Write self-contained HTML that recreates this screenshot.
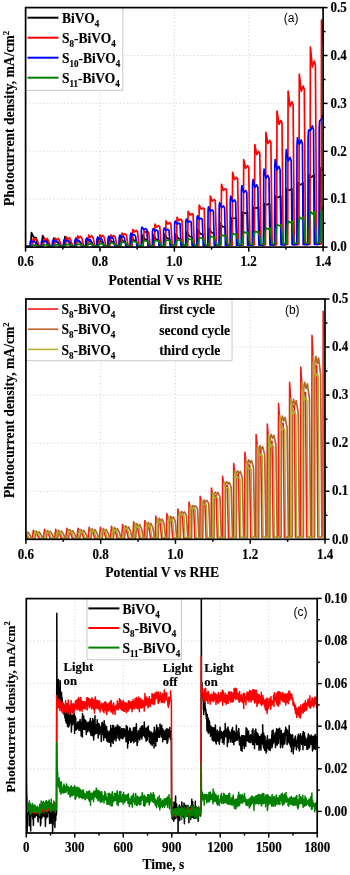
<!DOCTYPE html>
<html><head><meta charset="utf-8"><style>
html,body{margin:0;padding:0;background:#fff;width:350px;height:875px;overflow:hidden;position:relative}
</style></head><body>
<svg width="350" height="875" viewBox="0 0 350 875" style="position:absolute;left:0;top:0;will-change:transform">
<rect width="350" height="875" fill="#fff"/>
<line x1="99.98" y1="7.6" x2="99.98" y2="247.1" stroke="#c4c4c4" stroke-width="0.7" stroke-dasharray="1.2 2.3"/>
<line x1="174.35" y1="7.6" x2="174.35" y2="247.1" stroke="#c4c4c4" stroke-width="0.7" stroke-dasharray="1.2 2.3"/>
<line x1="248.72" y1="7.6" x2="248.72" y2="247.1" stroke="#c4c4c4" stroke-width="0.7" stroke-dasharray="1.2 2.3"/>
<line x1="25.6" y1="199.2" x2="323.1" y2="199.2" stroke="#c4c4c4" stroke-width="0.7" stroke-dasharray="1.2 2.3"/>
<line x1="25.6" y1="151.3" x2="323.1" y2="151.3" stroke="#c4c4c4" stroke-width="0.7" stroke-dasharray="1.2 2.3"/>
<line x1="25.6" y1="103.4" x2="323.1" y2="103.4" stroke="#c4c4c4" stroke-width="0.7" stroke-dasharray="1.2 2.3"/>
<line x1="25.6" y1="55.5" x2="323.1" y2="55.5" stroke="#c4c4c4" stroke-width="0.7" stroke-dasharray="1.2 2.3"/>
<line x1="100.68" y1="299" x2="100.68" y2="539.3" stroke="#c4c4c4" stroke-width="0.7" stroke-dasharray="1.2 2.3"/>
<line x1="175.45" y1="299" x2="175.45" y2="539.3" stroke="#c4c4c4" stroke-width="0.7" stroke-dasharray="1.2 2.3"/>
<line x1="250.22" y1="299" x2="250.22" y2="539.3" stroke="#c4c4c4" stroke-width="0.7" stroke-dasharray="1.2 2.3"/>
<line x1="25.9" y1="491.24" x2="325" y2="491.24" stroke="#c4c4c4" stroke-width="0.7" stroke-dasharray="1.2 2.3"/>
<line x1="25.9" y1="443.18" x2="325" y2="443.18" stroke="#c4c4c4" stroke-width="0.7" stroke-dasharray="1.2 2.3"/>
<line x1="25.9" y1="395.12" x2="325" y2="395.12" stroke="#c4c4c4" stroke-width="0.7" stroke-dasharray="1.2 2.3"/>
<line x1="25.9" y1="347.06" x2="325" y2="347.06" stroke="#c4c4c4" stroke-width="0.7" stroke-dasharray="1.2 2.3"/>
<line x1="74.78" y1="598.6" x2="74.78" y2="833" stroke="#c4c4c4" stroke-width="0.7" stroke-dasharray="1.2 2.3"/>
<line x1="123.27" y1="598.6" x2="123.27" y2="833" stroke="#c4c4c4" stroke-width="0.7" stroke-dasharray="1.2 2.3"/>
<line x1="171.75" y1="598.6" x2="171.75" y2="833" stroke="#c4c4c4" stroke-width="0.7" stroke-dasharray="1.2 2.3"/>
<line x1="220.23" y1="598.6" x2="220.23" y2="833" stroke="#c4c4c4" stroke-width="0.7" stroke-dasharray="1.2 2.3"/>
<line x1="268.72" y1="598.6" x2="268.72" y2="833" stroke="#c4c4c4" stroke-width="0.7" stroke-dasharray="1.2 2.3"/>
<line x1="26.3" y1="811.4" x2="317.2" y2="811.4" stroke="#c4c4c4" stroke-width="0.7" stroke-dasharray="1.2 2.3"/>
<line x1="26.3" y1="768.8" x2="317.2" y2="768.8" stroke="#c4c4c4" stroke-width="0.7" stroke-dasharray="1.2 2.3"/>
<line x1="26.3" y1="726.2" x2="317.2" y2="726.2" stroke="#c4c4c4" stroke-width="0.7" stroke-dasharray="1.2 2.3"/>
<line x1="26.3" y1="683.6" x2="317.2" y2="683.6" stroke="#c4c4c4" stroke-width="0.7" stroke-dasharray="1.2 2.3"/>
<line x1="26.3" y1="641" x2="317.2" y2="641" stroke="#c4c4c4" stroke-width="0.7" stroke-dasharray="1.2 2.3"/>
<clipPath id="ca"><rect x="25.6" y="7" width="297.5" height="241"/></clipPath>
<g clip-path="url(#ca)">
<path d="M26.1 246.3L30.6 246.3 31.5 232.6 33.6 237.1 36.2 237.9 37.6 246.3 41.7 246.2 41.7 246.2 42.6 235.5 44.7 239.6 47.3 240.5 48.8 246.2 52.8 246.2 52.8 246.2 53.8 238.1 55.8 241.6 58.4 242.3 60 246.2 63.9 246.1 63.9 246.1 64.9 236.5 66.9 240.4 69.5 241.2 71.1 246.1 75.1 246.1 75.1 246.1 76 238 78.1 241.4 80.7 242.2 82.2 246.1 86.2 246.1 86.2 246.1 87.2 238.1 89.2 241.5 91.8 242.3 93.3 246.1 97.3 246 97.3 246 98.3 238.1 100.3 241.5 102.9 242.3 104.5 246 108.4 246 108.4 246 109.4 238.1 111.4 241.5 114 242.2 115.6 246 119.5 245.9 119.5 245.9 120.5 237.1 122.5 240.8 125.1 241.5 126.7 245.9 130.6 245.9 130.6 245.9 131.6 236.1 133.6 240 136.2 240.8 137.8 245.9 141.8 245.8 141.8 245.8 142.7 235.1 144.8 239.1 147.3 239.9 148.8 245.8 152.9 245.8 152.9 245.8 153.8 235.1 155.9 239.1 158.5 239.9 160 245.8 164 245.7 164 245.7 164.9 234.1 167 238.2 169.6 239.1 171 245.7 175.1 245.7 175.1 245.7 176 234.1 178.1 238.2 180.7 239 182.2 245.7 186.2 245.7 186.2 245.7 187.1 231.9 189.2 236.2 191.8 237 193.2 245.7 197.3 245.6 197.3 245.6 198.2 229.6 200.3 233.9 202.9 234.6 204.3 245.6 208.4 245.5 208.4 245.5 209.2 228.3 211.4 232.5 214 233.2 215.3 245.5 219.6 245.4 219.6 245.4 220.3 223.4 222.6 226.7 225.2 226.9 226.3 245.4 230.7 245.2 230.7 245.2 231.3 217.5 233.7 218.5 236.3 217.7 237.3 245.2 241.8 245.1 241.8 245.1 242.4 212.4 244.8 213.4 247.4 212.4 248.4 245.1 252.9 245 252.9 245 253.5 207.1 255.9 208.2 258.5 207.1 259.5 245 264 244.8 264 244.8 264.6 203.6 267 204.8 269.6 203.6 270.6 244.8 275.1 244.7 275.1 244.7 275.7 196 278.1 197.4 280.7 196 281.7 244.7 286.2 244.5 286.2 244.5 286.8 188.8 289.2 190.4 291.8 188.8 292.8 244.5 297.4 244.4 297.4 244.4 298 183.1 300.4 184.9 303 183.1 304 244.4 308.5 244.3 308.5 244.3 309.1 175 311.5 177.1 314.1 175 315.1 244.3 319.6 244.1 319.6 244.1 320.2 167.9 322.6 170.2 325.2 167.9 326.2 244.1" fill="none" stroke="#000" stroke-width="1.7" stroke-linejoin="round" />
<path d="M26.1 246.3L32.1 246.3 33.3 238.1 34.5 240.3 35.9 238.5 37.5 241 39.3 246.3 43.2 246.2 43.2 246.2 44.4 238.1 45.6 240.3 47 238.5 48.6 241 50.4 246.2 54.3 246.2 54.3 246.2 55.5 238.1 56.7 240.3 58.2 238.5 59.7 241 61.5 246.2 65.4 246.1 65.4 246.1 66.6 237.2 67.8 239.5 69.3 237.7 70.8 240.1 72.6 246.1 76.6 246.1 76.6 246.1 77.6 235.8 79 238 80.4 236.3 82 238.5 83.7 246.1 87.7 246 87.7 246 88.7 235.2 90.1 237.4 91.6 235.7 93.1 237.7 94.8 246 98.8 246 98.8 246 99.8 234.8 101.2 237 102.7 235.4 104.2 237.3 105.9 246 109.9 246 109.9 246 111 234.9 112.3 237.1 113.8 235.5 115.3 237.4 117 246 121 245.9 121 245.9 122 233.1 123.4 235 125 233.8 126.4 235 128.1 245.9 132.1 245.9 132.1 245.9 133 229.4 134.5 231.8 136.2 230.3 137.5 231.7 139.1 245.9 143.2 245.8 143.2 245.8 144.1 230.3 145.7 232.5 147.3 231.1 148.7 232.5 150.2 245.8 154.4 245.8 154.4 245.8 155 224.2 156.8 227.1 158.5 225.5 159.8 227 161.2 245.8 165.5 245.7 165.5 245.7 166 220.9 167.9 224.1 169.7 222.5 170.9 224 172.2 245.7 176.6 245.7 176.6 245.7 177 217.3 179 220.7 180.9 219.1 182 220.5 183.2 245.7 187.7 245.6 187.7 245.6 188.1 211.3 190.1 215 192 213.6 193.1 214.7 194.3 245.6 198.8 245.6 198.8 245.6 199.2 205.2 201.2 209.2 203.1 208 204.2 208.8 205.4 245.6 209.9 245.5 209.9 245.5 210.3 196.1 212.3 201.1 214.2 199.6 215.3 200.6 216.5 245.5 221.1 245.3 221.1 245.3 221.5 184.3 223.5 190.4 225.4 188.6 226.5 189.8 227.7 245.3 232.2 245.2 232.2 245.2 232.6 172.3 234.6 179.6 236.5 177.4 237.6 178.9 238.8 245.2 243.3 245.1 243.3 245.1 243.7 159.7 245.7 168.2 247.6 165.7 248.7 167.4 249.9 245.1 254.4 244.9 254.4 244.9 254.8 144.5 256.8 154.6 258.7 151.5 259.8 153.6 261 244.9 265.5 244.8 265.5 244.8 265.9 132.4 267.9 143.6 269.8 140.3 270.9 142.5 272.1 244.8 276.6 244.7 276.6 244.7 277 111 279 124.3 280.9 120.3 282 123 283.2 244.7 287.7 244.5 287.7 244.5 288.1 91 290.1 106.4 292 101.8 293.1 104.8 294.3 244.5 298.9 244.4 298.9 244.4 299.3 74.2 301.3 91.2 303.2 86.1 304.3 89.5 305.5 244.4 310 244.3 310 244.3 310.4 47.2 312.4 66.9 314.3 61 315.4 64.9 316.6 244.3 321.1 244.1 321.1 244.1 321.5 20.1 323.5 42.5 325.4 35.8 326.5 40.3 327.7 244.1" fill="none" stroke="#f00" stroke-width="1.7" stroke-linejoin="round" />
<path d="M26.1 246.3L30 246.3 30.2 242 31 240.6 32.6 242 34.4 241.5 35.6 242.9 37 246.3 41.1 246.2 41.1 246.2 41.4 241.7 42.1 240.2 43.7 241.7 45.5 241.1 46.7 242.6 48.1 246.2 52.2 246.2 52.2 246.2 52.5 241.6 53.2 240.1 54.8 241.6 56.6 241 57.8 242.5 59.2 246.2 63.3 246.1 63.3 246.1 63.6 241.3 64.3 239.7 65.9 241.3 67.7 240.6 68.9 242.3 70.3 246.1 74.5 246.1 74.5 246.1 74.7 240.9 75.5 239.2 77.1 240.9 78.9 240.2 80.1 241.9 81.5 246.1 85.6 246.1 85.6 246.1 85.8 240.1 86.6 238.2 88.2 240.1 90 239.4 91.2 241.2 92.6 246.1 96.7 246 96.7 246 96.9 239.1 97.7 237 99.3 239.1 101.1 238.3 102.3 240.2 103.6 246 107.8 246 107.8 246 108.1 238.2 108.8 236 110.4 238.2 112.2 237.3 113.4 239.3 114.7 246 118.9 245.9 118.9 245.9 119.2 237.4 119.9 235.1 121.5 237.3 123.3 236.5 124.5 238.4 125.8 245.9 130 245.9 130 245.9 130.3 235.5 131 233.1 132.6 235.4 134.4 234.6 135.6 236.4 136.9 245.9 141.2 245.8 141.2 245.8 141.4 229.4 142 227.1 143.8 229.4 145.6 228.6 146.8 229.4 147.9 245.8 152.3 245.8 152.3 245.8 152.5 231 153.2 228.6 154.9 230.9 156.7 230.1 157.9 231.2 159 245.8 163.4 245.7 163.4 245.7 163.6 230.3 164.3 227.9 166 230.2 167.8 229.4 169 230.4 170.1 245.7 174.5 245.7 174.5 245.7 174.7 222.7 175.3 221 177.1 224 178.9 223 180.1 224 181 245.7 185.6 245.7 185.6 245.7 185.9 220.8 186.4 219 188.2 222.2 190 221.1 191.2 222.2 192.1 245.7 196.7 245.6 196.7 245.6 197 217.9 197.5 215.8 199.3 219.4 201.1 218.2 202.3 219.4 203.2 245.6 207.8 245.5 207.8 245.5 208.1 209.5 208.5 206.8 210.4 211.4 212.2 209.9 213.4 211.4 214.3 245.5 219 245.4 219 245.4 219.2 205.6 219.7 202.6 221.6 207.7 223.4 206 224.6 207.7 225.4 245.4 230.1 245.2 230.1 245.2 230.3 199.5 230.8 196.1 232.7 202 234.5 200 235.7 202 236.5 245.2 241.2 245.1 241.2 245.1 241.4 189.8 241.9 185.6 243.8 192.7 245.6 190.4 246.8 192.7 247.6 245.1 252.3 245 252.3 245 252.6 184.1 253 179.5 254.9 187.4 256.7 184.8 257.9 187.4 258.8 245 263.4 244.8 263.4 244.8 263.7 174.4 264.1 169.1 266 178.2 267.8 175.2 269 178.2 269.9 244.8 274.5 244.7 274.5 244.7 274.8 165.6 275.2 159.6 277.1 169.8 278.9 166.4 280.1 169.8 281 244.7 285.6 244.6 285.6 244.6 285.9 156.4 286.3 149.7 288.2 161.1 290 157.3 291.2 161.1 292.1 244.6 296.8 244.4 296.8 244.4 297 144.5 297.5 137.9 299.4 144.4 301.2 140 302.4 143.9 303.2 244.4 307.9 244.3 307.9 244.3 308.1 136.3 308.6 130.1 310.5 130.6 312.3 125.8 313.5 129.5 314.3 244.3 319 244.1 319 244.1 319.2 127.1 319.7 120.6 321.6 119.3 323.4 114.1 324.6 118 325.4 244.1" fill="none" stroke="#00f" stroke-width="1.7" stroke-linejoin="round" />
<path d="M26.1 246.5L30.9 246.5 32.3 245.4 33.3 245.1 34.9 245.2 36.1 245.2 39.2 246.5 42 246.4 42 246.4 43.4 245.2 44.4 244.9 46 245 47.2 245 50.3 246.4 53.1 246.4 53.1 246.4 54.5 245 55.5 244.6 57.1 244.8 58.3 244.8 61.4 246.4 64.2 246.3 64.2 246.3 65.6 244.8 66.6 244.4 68.2 244.6 69.4 244.6 72.5 246.3 75.4 246.3 75.4 246.3 76.8 244.6 77.8 244.1 79.4 244.3 80.6 244.3 83.7 246.3 86.5 246.2 86.5 246.2 87.9 244.4 88.9 243.9 90.5 244.1 91.7 244.1 94.8 246.2 97.6 246.2 97.6 246.2 99 244.2 100 243.7 101.6 243.9 102.8 243.9 105.9 246.2 108.7 246.1 108.7 246.1 110.1 243.6 111.1 242.9 112.7 243.3 113.9 243.3 117 246.1 119.8 246 119.8 246 121.2 242.9 122.2 242.1 123.8 242.5 125 242.5 128.1 246 130.9 246 130.9 246 132.3 242.2 133.3 241.3 134.9 241.8 136.1 241.8 139.2 246 142.1 245.9 142.1 245.9 143.4 241.6 144.4 240.5 146.1 241.1 147.3 241.1 150.3 245.9 153.2 245.9 153.2 245.9 154.5 241.4 155.5 240.3 157.2 240.8 158.4 240.8 161.4 245.9 164.3 245.7 164.3 245.7 165.6 241.1 166.6 240 168.3 240.5 169.5 240.5 172.5 245.7 175.4 245.5 175.4 245.5 176.8 240.8 177.8 239.7 179.4 240.3 180.7 240.2 183.6 245.5 186.5 245.4 186.5 245.4 187.8 240.1 188.8 238.9 190.5 239.5 191.8 239.4 194.7 245.4 197.6 245.2 197.6 245.2 198.9 239 199.9 237.6 201.6 238.3 203 238.2 205.8 245.2 208.7 245.1 208.7 245.1 210 237.9 211 236.3 212.7 237.1 214.1 236.9 216.8 245.1 219.9 244.9 219.9 244.9 221.1 236.8 222.1 235 223.9 235.9 225.3 235.6 227.9 244.9 231 244.7 231 244.7 232.2 235.4 233.2 233.5 235 234.4 236.5 234 238.9 244.7 242.1 244.5 242.1 244.5 243.2 234 244.2 231.9 246.1 232.9 247.7 232.3 250 244.5 253.2 244.3 253.2 244.3 254.3 233.4 255.3 231.3 257.2 232.3 258.8 231.6 261.1 244.3 264.3 244 264.3 244 265.3 230.5 266.3 228.1 268.3 229.2 270.1 228.2 272.1 244 275.4 243.7 275.4 243.7 276.4 227.4 277.4 224.6 279.4 225.9 281.2 224.6 283.1 243.7 286.5 243.4 286.5 243.4 287.5 224.5 288.5 221.2 290.5 222.7 292.3 221.2 294.2 243.4 297.7 243.1 297.7 243.1 298.7 221 299.7 217.1 301.7 218.9 303.5 217.1 305.4 243.1 308.8 242.8 308.8 242.8 309.8 216.4 310.8 211.7 312.8 213.9 314.6 211.7 316.5 242.8 319.9 242.5 319.9 242.5 320.9 212.8 321.9 207.5 323.9 210 325.7 207.5 327.6 242.5" fill="none" stroke="#008000" stroke-width="1.7" stroke-linejoin="round" />
</g>
<clipPath id="cb"><rect x="25.9" y="299" width="299.1" height="241"/></clipPath>
<g clip-path="url(#cb)">
<path d="M26.4 538.5L21 538.5 22.2 530.3 23.5 533.6 24.5 532.4 26 534.4 27.8 538.5 32.2 538.5 32.2 538.5 33.4 530.3 34.7 533.6 35.7 532.3 37.2 534.4 39 538.5 43.4 538.4 43.4 538.4 44.5 529.3 45.8 532.9 46.9 531.6 48.4 533.8 50.2 538.4 54.6 538.4 54.6 538.4 55.7 529.3 57 532.9 58.1 531.5 59.6 533.7 61.3 538.4 65.7 538.4 65.7 538.4 66.9 528.4 68.1 532.2 69.2 530.8 70.7 533.2 72.5 538.4 76.9 538.3 76.9 538.3 78 528.3 79.3 532.1 80.4 530.8 81.9 533.1 83.7 538.3 88.1 538.3 88.1 538.3 89.2 527.4 90.5 531.5 91.6 530 93.1 532.5 94.8 538.3 99.3 538.3 99.3 538.3 100.4 527.3 101.6 531.4 102.8 529.9 104.3 532.4 106 538.3 110.5 538.2 110.5 538.2 111.5 526.3 112.8 530.7 114 529.2 115.5 531.8 117.1 538.2 121.6 538.2 121.6 538.2 122.6 524.5 123.9 529.3 125.1 527.7 126.6 530.5 128.3 538.2 132.8 538.2 132.8 538.2 133.7 521.7 134.9 527 136.3 525.4 137.8 528.3 139.4 538.2 144 538.1 144 538.1 144.8 520.5 146 526 147.5 524.4 149 527.3 150.5 538.1 155.2 538.1 155.2 538.1 155.8 516.1 157 522.1 158.7 520.7 160.2 523.6 161.6 538.1 166.4 538 166.4 538 166.8 513.6 168.1 519.7 169.9 518.5 171.4 521.2 172.7 538 177.5 537.9 177.5 537.9 177.8 509 179 515 181 514.4 182.5 516.5 183.7 537.9 188.7 537.8 188.7 537.8 189 502.1 190.2 507.3 192.2 508.1 193.7 508.6 194.9 537.8 199.9 537.7 199.9 537.7 200.2 496.4 201.4 501.3 203.4 503 204.9 502.6 206.1 537.7 211.1 537.6 211.1 537.6 211.4 488 212.6 493.9 214.6 495.9 216.1 495.4 217.3 537.6 222.3 537.6 222.3 537.6 222.6 476.4 223.8 483.8 225.8 486.2 227.3 485.6 228.5 537.6 233.4 537.5 233.4 537.5 233.7 463.5 234.9 472.4 236.9 475.4 238.4 474.6 239.6 537.5 244.6 537.4 244.6 537.4 244.9 452.2 246.1 462.4 248.1 465.8 249.6 465 250.8 537.4 255.8 537.3 255.8 537.3 256.1 434.6 257.3 446.9 259.3 451.1 260.8 450 262 537.3 267 537.2 267 537.2 267.3 424.1 268.5 437.7 270.5 442.2 272 441.1 273.2 537.2 278.2 537.1 278.2 537.1 278.5 403.2 279.7 419.2 281.7 424.6 283.2 423.3 284.4 537.1 289.3 537.1 289.3 537.1 289.6 382.4 290.8 401 292.8 407.2 294.3 405.6 295.5 537.1 300.5 537 300.5 537 300.8 367.1 302 387.5 304 394.3 305.5 392.6 306.7 537 311.7 536.9 311.7 536.9 312 335.4 313.2 359.6 315.2 367.7 316.7 365.7 317.9 536.9 322.9 536.8 322.9 536.8 323.2 311.3 324.4 338.4 326.4 347.4 327.9 345.1 329.1 536.8" fill="none" stroke="#f01c1c" stroke-width="1.6" stroke-linejoin="round" />
<path d="M26.4 538.5L23.9 538.5 24.9 532.9 25.2 531.5 26.5 533.6 27.9 532.2 29.9 535 31.7 538.5 35.1 538.5 35.1 538.5 36.1 532.7 36.4 531.2 37.7 533.4 39.1 531.9 41.1 534.8 42.9 538.5 46.3 538.4 46.3 538.4 47.3 532.2 47.6 530.6 48.9 532.9 50.3 531.4 52.3 534.5 54.1 538.4 57.5 538.4 57.5 538.4 58.5 532 58.8 530.4 60.1 532.8 61.5 531.2 63.5 534.4 65.3 538.4 68.6 538.4 68.6 538.4 69.6 531.4 69.9 529.7 71.2 532.3 72.6 530.6 74.6 534 76.4 538.4 79.8 538.3 79.8 538.3 80.8 531.3 81.1 529.6 82.4 532.1 83.8 530.4 85.8 533.8 87.6 538.3 91 538.3 91 538.3 92 530.6 92.3 528.9 93.6 531.5 95 529.7 97 533.3 98.8 538.3 102.2 538.3 102.2 538.3 103.1 530.5 103.5 528.7 104.8 531.4 106.2 529.6 108.2 533.2 109.9 538.3 113.4 538.2 113.4 538.2 114.3 529.5 114.7 527.6 116 530.5 117.4 528.6 119.4 532.4 121.1 538.2 124.5 538.2 124.5 538.2 125.4 527.9 125.8 525.9 127.1 528.9 128.5 526.9 130.5 531 132.2 538.2 135.7 538.1 135.7 538.1 136.5 525.7 137 523.5 138.3 526.7 139.7 524.6 141.7 529 143.4 538.1 146.9 538.1 146.9 538.1 147.6 524.6 148.2 522.4 149.5 525.6 150.9 523.5 152.9 527.9 154.5 538.1 158.1 538 158.1 538 158.7 520.3 159.4 518.2 160.7 521.2 162.1 519.2 164.1 523.6 165.6 538 169.3 538 169.3 538 169.8 518 170.6 516.2 171.9 518.9 173.3 517 175.3 521.2 176.7 538 180.4 537.9 180.4 537.9 180.8 512.8 181.7 511.5 183 513.3 184.4 512 186.4 515.3 187.8 537.9 191.6 537.8 191.6 537.8 191.9 506.5 192.9 505.5 194.2 506.8 195.6 505.9 197.6 508.8 198.9 537.8 202.8 537.7 202.8 537.7 203.1 501.2 204.1 500.1 205.4 501.6 206.8 500.4 208.8 503.8 210.1 537.7 214 537.6 214 537.6 214.3 493.6 215.3 492.2 216.6 494.1 218 492.7 220 496.8 221.3 537.6 225.2 537.5 225.2 537.5 225.5 483.4 226.5 481.7 227.8 483.9 229.2 482.3 231.2 487.3 232.5 537.5 236.3 537.5 236.3 537.5 236.6 472.8 237.6 470.8 238.9 473.4 240.3 471.4 242.3 477.4 243.6 537.5 247.5 537.4 247.5 537.4 247.8 462.2 248.8 459.9 250.1 463 251.5 460.6 253.5 467.6 254.8 537.4 258.7 537.3 258.7 537.3 259 448.5 260 445.8 261.3 449.5 262.7 446.7 264.7 454.9 266 537.3 269.9 537.2 269.9 537.2 270.2 437.5 271.2 434.4 272.5 438.5 273.9 435.4 275.9 444.7 277.2 537.2 281.1 537.1 281.1 537.1 281.4 419.8 282.4 416.1 283.7 421 285.1 417.4 287.1 428.2 288.4 537.1 292.2 537 292.2 537 292.5 403.5 293.5 399.4 294.8 404.9 296.2 400.7 298.2 413.1 299.5 537 303.4 537 303.4 537 303.7 387 304.7 382.3 306 388.5 307.4 383.9 309.4 397.8 310.7 537 314.6 536.9 314.6 536.9 314.9 361.8 315.9 356.4 317.2 363.6 318.6 358.2 320.6 374.4 321.9 536.9 325.8 536.8 325.8 536.8 326.1 346.8 327.1 340.9 328.4 348.8 329.8 342.9 331.8 360.5 333.1 536.8" fill="none" stroke="#b8642a" stroke-width="1.7" stroke-linejoin="round" />
<path d="M26.4 538.5L22.4 538.5 23.6 531.3 24.6 534.2 26.6 532.7 27.6 534.9 29.1 538.5 33.6 538.5 33.6 538.5 34.8 531.2 35.8 534.1 37.8 532.6 38.8 534.8 40.3 538.5 44.8 538.4 44.8 538.4 46 530.4 47 533.6 49 532 50 534.4 51.5 538.4 56 538.4 56 538.4 57.2 530.3 58.2 533.6 60.2 531.9 61.2 534.4 62.7 538.4 67.1 538.4 67.1 538.4 68.3 529.5 69.3 533 71.3 531.2 72.3 533.8 73.8 538.4 78.3 538.3 78.3 538.3 79.5 529.5 80.5 532.9 82.5 531.2 83.5 533.8 85 538.3 89.5 538.3 89.5 538.3 90.6 528.6 91.7 532.3 93.7 530.5 94.7 533.2 96.1 538.3 100.7 538.3 100.7 538.3 101.8 528.6 102.9 532.2 104.9 530.4 105.9 533.1 107.3 538.3 111.9 538.2 111.9 538.2 112.9 527.6 114.1 531.5 116.1 529.6 117.1 532.4 118.5 538.2 123 538.2 123 538.2 124.1 525.9 125.2 530.1 127.2 528.1 128.2 531.1 129.6 538.2 134.2 538.2 134.2 538.2 135.1 523.3 136.4 527.9 138.4 525.8 139.4 528.9 140.7 538.2 145.4 538.1 145.4 538.1 146.3 522.4 147.6 527.1 149.6 525 150.6 528 151.8 538.1 156.6 538.1 156.6 538.1 157.3 518.1 158.8 522.8 160.8 520.9 161.8 523.7 162.9 538.1 167.8 538 167.8 538 168.4 516.2 170 520.8 172 519.1 173 521.5 174 538 178.9 537.9 178.9 537.9 179.3 511.7 181.1 515.7 183.1 514.7 184.1 516 185 537.9 190.1 537.8 190.1 537.8 190.4 505.4 192.3 509.3 194.3 508.7 195.3 509.3 196.1 537.8 201.3 537.7 201.3 537.7 201.6 500.2 203.5 504.7 205.5 503.9 206.5 504.7 207.3 537.7 212.5 537.6 212.5 537.6 212.8 492.6 214.7 498 216.7 497.1 217.7 498 218.5 537.6 223.7 537.6 223.7 537.6 224 481.9 225.9 488.6 227.9 487.5 228.9 488.6 229.7 537.6 234.8 537.5 234.8 537.5 235.1 470.5 237 478.6 239 477.2 240 478.6 240.8 537.5 246 537.4 246 537.4 246.3 460.2 248.2 469.4 250.2 467.9 251.2 469.4 252 537.4 257.2 537.3 257.2 537.3 257.5 444.9 259.4 456 261.4 454.1 262.4 456 263.2 537.3 268.4 537.2 268.4 537.2 268.7 434.5 270.6 446.8 272.6 444.8 273.6 446.8 274.4 537.2 279.6 537.1 279.6 537.1 279.9 415.8 281.8 430.4 283.8 427.9 284.8 430.4 285.6 537.1 290.7 537.1 290.7 537.1 291 398 292.9 414.7 294.9 411.9 295.9 414.7 296.7 537.1 301.9 537 301.9 537 302.2 382.6 304.1 401.1 306.1 398 307.1 401.1 307.9 537 313.1 536.9 313.1 536.9 313.4 355.1 315.3 376.9 317.3 373.3 318.3 376.9 319.1 536.9 324.3 536.8 324.3 536.8 324.6 336.4 326.5 360.4 328.5 356.4 329.5 360.4 330.3 536.8" fill="none" stroke="#b0aa2c" stroke-width="1.4" stroke-linejoin="round" />
</g>
<clipPath id="cc"><rect x="26.3" y="598.6" width="290.9" height="234.4"/></clipPath>
<g clip-path="url(#cc)">
<path d="M26.3 786.1L26.5 795.7 26.6 801 26.8 806.9 26.9 811.7 27.1 833.1 27.3 816.9 27.4 808.8 27.6 813.2 27.8 812.3 27.9 810.4 28.1 810.9 28.2 813.9 28.4 813.4 28.6 808.2 28.7 809.2 28.9 810.6 29 808.4 29.2 825.8 29.4 818.8 29.5 816.2 29.7 820.6 29.9 812.1 30 815.6 30.2 812.3 30.3 817.6 30.5 819.7 30.7 830.9 30.8 813.5 31 814.5 31.1 816.7 31.3 809.2 31.5 812.3 31.6 806 31.8 812.3 32 812.1 32.1 810.8 32.3 813 32.4 813.7 32.6 809.6 32.8 818.4 32.9 819.2 33.1 812.7 33.2 810.8 33.4 825.5 33.6 814.5 33.7 812 33.9 815.2 34.1 813.5 34.2 815.4 34.4 809.7 34.5 812.2 34.7 812.1 34.9 811.7 35 817.3 35.2 815.7 35.4 809 35.5 811 35.7 813.1 35.8 813.9 36 811.6 36.2 815.3 36.3 810.9 36.5 810.4 36.6 813.2 36.8 809.1 37 810.1 37.1 810.1 37.3 815.9 37.5 810.9 37.6 811.1 37.8 810.4 37.9 819.3 38.1 821.9 38.3 811.8 38.4 816.1 38.6 813 38.7 812.8 38.9 810.3 39.1 814 39.2 815.3 39.4 814.8 39.6 813.2 39.7 815.5 39.9 817.6 40 804.2 40.2 818.8 40.4 813 40.5 825.7 40.7 815 40.8 824.2 41 817.8 41.2 810.3 41.3 815.8 41.5 811 41.7 809.2 41.8 818.1 42 814 42.1 816.9 42.3 814.3 42.5 815.8 42.6 810.4 42.8 812.6 42.9 815.2 43.1 811.6 43.3 810 43.4 815.7 43.6 811.5 43.8 815.3 43.9 807.6 44.1 815.1 44.2 816.8 44.4 813.4 44.6 816 44.7 808.8 44.9 809.1 45 807.8 45.2 806.6 45.4 826.4 45.5 821.7 45.7 815.2 45.9 810.7 46 818.9 46.2 813.3 46.3 810.1 46.5 813.9 46.7 812 46.8 814 47 807 47.1 806.4 47.3 814.3 47.5 813.8 47.6 816.9 47.8 809.6 48 810.3 48.1 809.7 48.3 808.7 48.4 808.1 48.6 806.6 48.8 810.7 48.9 812.4 49.1 811.3 49.2 807.6 49.4 808.8 49.6 823.6 49.7 810.3 49.9 807.7 50.1 804.7 50.2 813.6 50.4 813 50.5 808.9 50.7 808.7 50.9 811.8 51 823.2 51.2 811.5 51.3 812.6 51.5 811 51.7 811.6 51.8 808.9 52 813.8 52.2 812.7 52.3 810.2 52.5 810.2 52.6 833 52.8 810.1 53 814.7 53.1 824.9 53.3 812.7 53.5 813.9 53.6 812.8 53.8 812.9 53.9 813.5 54.1 811.6 54.3 812.3 54.4 810.7 54.6 816.9 54.7 811.3 54.9 827.4 55.1 813.7 55.2 808.1 55.4 812.4 55.6 817.9 55.7 820.4 55.9 813 56 815.4 56.2 815.1 56.4 814.7 56.5 814.1 56.7 685.6 56.8 694.4 56.8 613.3 57 689.7 57.2 693.6 57.3 696.6 57.5 699.4 57.7 692 57.8 695.8 58 694.1 58.1 696.1 58.3 696.8 58.5 679.4 58.6 692 58.8 698.2 58.9 693.3 59.1 692.5 59.3 699.4 59.4 688.2 59.6 697.3 59.8 691.3 59.9 696.3 60.1 698.4 60.2 680.7 60.4 698.6 60.6 703.3 60.7 699.4 60.9 702.1 61 693.3 61.2 696.9 61.4 704.9 61.5 692.2 61.7 701.9 61.9 707.4 62 697.3 62.2 699.9 62.3 708.2 62.5 709.4 62.7 705.7 62.8 708.8 63 704 63.1 705.9 63.3 713.3 63.5 713.6 63.6 710.6 63.8 704.3 64 713.8 64.1 708.7 64.3 714.7 64.4 710.3 64.6 715.3 64.8 711.3 64.9 717.7 65.1 717.4 65.2 705.7 65.4 710.7 65.6 720.9 65.7 710.3 65.9 716.8 66.1 710.3 66.2 722.8 66.4 717.5 66.5 719.3 66.7 720.9 66.9 723.2 67 709.4 67.2 718.5 67.3 720.2 67.5 726.5 67.7 714.1 67.8 714.3 68 720.3 68.2 726 68.3 717.3 68.5 720.1 68.6 726.9 68.8 710.9 69 717.2 69.1 725.2 69.3 724.5 69.5 717.4 69.6 715.6 69.8 718.5 69.9 718.9 70.1 723 70.3 712 70.4 722.7 70.6 720.5 70.7 719.9 70.9 723 71.1 718.3 71.2 714.9 71.4 732.1 71.6 723 71.7 716.5 71.9 715.9 72 724.3 72.2 719.1 72.4 721.2 72.5 721.3 72.7 724.8 72.8 717.4 73 716.4 73.2 714.6 73.3 720.6 73.5 721.2 73.7 716.7 73.8 706.7 74 722.8 74.1 722.2 74.3 713.9 74.5 727.1 74.6 733.5 74.8 717.6 74.9 715.8 75.1 716.2 75.3 717.8 75.4 717.4 75.6 725.7 75.8 717.9 75.9 727.3 76.1 730.1 76.2 724.2 76.4 729.2 76.6 728.5 76.7 726.7 76.9 725.8 77 723.4 77.2 728.9 77.4 727.2 77.5 725.4 77.7 724.2 77.9 723 78 721.8 78.2 724.5 78.3 723.6 78.5 722.8 78.7 726.1 78.8 725.4 79 730.5 79.1 725.5 79.3 722.2 79.5 729.8 79.6 720.9 79.8 729.3 80 722.2 80.1 719.6 80.3 726.2 80.4 729.1 80.6 725.3 80.8 729.2 80.9 731.5 81.1 722.6 81.2 736 81.4 723.2 81.6 730.8 81.7 723 81.9 729.5 82.1 718.8 82.2 729.2 82.4 737 82.5 713.4 82.7 726.4 82.9 727 83 726.3 83.2 727.6 83.3 724.7 83.5 729.3 83.7 715.9 83.8 728.8 84 722.6 84.2 719.3 84.3 726.3 84.5 721.3 84.6 727.6 84.8 729.6 85 728.6 85.1 720 85.3 720.2 85.4 729 85.6 720.3 85.8 729 85.9 724.1 86.1 721.8 86.3 734.4 86.4 722.3 86.6 726.5 86.7 732 86.9 722.2 87.1 724.1 87.2 723.9 87.4 726.9 87.6 728.8 87.7 731.8 87.9 727 88 730.9 88.2 728.2 88.4 724.5 88.5 722.8 88.7 724.6 88.8 725.3 89 727.9 89.2 722.5 89.3 721.5 89.5 729.2 89.7 729 89.8 731.5 90 728.5 90.1 729.2 90.3 718.4 90.5 721.2 90.6 733.6 90.8 724 90.9 728.7 91.1 735.5 91.3 726.6 91.4 730.9 91.6 726.5 91.8 725.6 91.9 731 92.1 721.3 92.2 727.6 92.4 731.8 92.6 735.8 92.7 718.4 92.9 732.2 93 728.3 93.2 727.4 93.4 724.7 93.5 735 93.7 740 93.9 728.5 94 735.9 94.2 730.4 94.3 719.8 94.5 731.9 94.7 726.2 94.8 734.3 95 715.8 95.1 731 95.3 727.5 95.5 730 95.6 732.1 95.8 724.5 96 730.4 96.1 733.5 96.3 731.7 96.4 730.7 96.6 728.8 96.8 728.6 96.9 732.9 97.1 731.5 97.2 719.8 97.4 730.3 97.6 723 97.7 731.2 97.9 727.5 98.1 732 98.2 738.1 98.4 731.7 98.5 725.2 98.7 723.4 98.9 724.3 99 731.7 99.2 730.7 99.3 734.5 99.5 728 99.7 725.6 99.8 728.3 100 732.8 100.2 727.6 100.3 729 100.5 727.3 100.6 730.4 100.8 728.7 101 733 101.1 733.6 101.3 741.4 101.4 728.9 101.6 729.2 101.8 734.4 101.9 723.1 102.1 724.7 102.3 722.5 102.4 730.9 102.6 731.6 102.7 729.1 102.9 726.4 103.1 723.9 103.2 735.2 103.4 731.7 103.6 740.3 103.7 732.3 103.9 727.1 104 728.2 104.2 720.7 104.4 728.5 104.5 733.6 104.7 735.2 104.8 730.6 105 724.4 105.2 737.8 105.3 736.5 105.5 731.9 105.7 733.9 105.8 728.3 106 734.6 106.1 732.4 106.3 732.7 106.5 731.8 106.6 726.6 106.8 738.9 106.9 741 107.1 740 107.3 734.6 107.4 732.8 107.6 731 107.8 732.1 107.9 733.1 108.1 741.9 108.2 736.9 108.4 732 108.6 739.7 108.7 736.4 108.9 736.3 109 732.1 109.2 738.5 109.4 742.2 109.5 736.3 109.7 736 109.9 731 110 737.6 110.2 735.9 110.3 737.3 110.5 737.1 110.7 725.5 110.8 746.5 111 732.2 111.1 738.5 111.3 734.5 111.5 741.9 111.6 733.9 111.8 738.5 112 732.2 112.1 728.4 112.3 740.2 112.4 741.8 112.6 729.1 112.8 725.3 112.9 734.1 113.1 743.5 113.2 741.1 113.4 729.5 113.6 725.8 113.7 734.3 113.9 739.8 114.1 728.3 114.2 739.7 114.4 736.5 114.5 736.2 114.7 736.2 114.9 730.8 115 737.6 115.2 732.5 115.3 728.2 115.5 728.2 115.7 727 115.8 734.8 116 740.9 116.2 732.3 116.3 732.1 116.5 731.8 116.6 734.9 116.8 731.1 117 737.8 117.1 729.4 117.3 725.1 117.4 732.6 117.6 732.9 117.8 730.3 117.9 730.7 118.1 730.6 118.3 732.3 118.4 734.5 118.6 726 118.7 738.6 118.9 728.1 119.1 737.1 119.2 731 119.4 737.5 119.5 740.2 119.7 737.8 119.9 737.5 120 727 120.2 735.7 120.4 736.1 120.5 737.4 120.7 733 120.8 732.9 121 730.2 121.2 735.8 121.3 738.1 121.5 732.9 121.7 728.6 121.8 729.1 122 736.9 122.1 734.7 122.3 730.9 122.5 735 122.6 738.7 122.8 731.5 122.9 734 123.1 731 123.3 728.5 123.4 734.6 123.6 737.6 123.8 735.9 123.9 729 124.1 732.1 124.2 729.1 124.4 734.3 124.6 729.5 124.7 735.1 124.9 735.9 125 733.1 125.2 733.7 125.4 734.4 125.5 733.2 125.7 729.2 125.9 736.7 126 741.7 126.2 732.1 126.3 725.6 126.5 729.5 126.7 739.8 126.8 732.5 127 729.6 127.1 730.8 127.3 726.7 127.5 731.2 127.6 747.9 127.8 732.8 128 739 128.1 739.8 128.3 743.5 128.4 741.7 128.6 737.7 128.8 731.2 128.9 731.1 129.1 733.3 129.2 730.8 129.4 738.3 129.6 740.3 129.7 727.9 129.9 734.5 130.1 738.2 130.2 733.2 130.4 739.9 130.5 729.3 130.7 742.4 130.9 738.9 131 737.2 131.2 737.2 131.3 741.9 131.5 732.3 131.7 733.3 131.8 735.8 132 733.3 132.2 738 132.3 731.4 132.5 738.3 132.6 740.5 132.8 736.4 133 736.5 133.1 733.9 133.3 732.4 133.4 727.8 133.6 741.5 133.8 742.7 133.9 734.2 134.1 729.5 134.3 730.8 134.4 736 134.6 736.6 134.7 736.9 134.9 727.6 135.1 736.6 135.2 734.2 135.4 741.3 135.5 731.6 135.7 736.4 135.9 737.1 136 737.3 136.2 736.5 136.4 723.7 136.5 733.2 136.7 733 136.8 739.4 137 742.3 137.2 745.6 137.3 738.6 137.5 735.1 137.7 734.8 137.8 742.3 138 732.7 138.1 738.1 138.3 730.4 138.5 736.6 138.6 735.1 138.8 738.5 138.9 738.2 139.1 734.8 139.3 732.2 139.4 731.4 139.6 737.7 139.8 739.9 139.9 732.3 140.1 728.2 140.2 736.1 140.4 735.6 140.6 735.5 140.7 731.9 140.9 728.9 141 737.3 141.2 731 141.4 726.4 141.5 730 141.7 736.1 141.9 739 142 732.2 142.2 726.2 142.3 728.7 142.5 725.7 142.7 733.8 142.8 731.8 143 735.7 143.1 729.6 143.3 732.9 143.5 735.6 143.6 733.8 143.8 729.6 144 728.3 144.1 728.8 144.3 721.9 144.4 729 144.6 736.6 144.8 727.8 144.9 736.5 145.1 737.7 145.2 729.7 145.4 735.7 145.6 733.1 145.7 735.5 145.9 734.3 146.1 741.3 146.2 729.6 146.4 728.3 146.5 735 146.7 728.5 146.9 730.3 147 729 147.2 727.8 147.3 740.1 147.5 731.1 147.7 735.5 147.8 731.5 148 736.2 148.2 725.9 148.3 727.8 148.5 735.4 148.6 733.5 148.8 734.5 149 734.5 149.1 731.6 149.3 740.2 149.4 742.3 149.6 731 149.8 734.5 149.9 738.2 150.1 739.3 150.3 742.9 150.4 737.6 150.6 744.1 150.7 735.9 150.9 735.3 151.1 739.6 151.2 732.1 151.4 733.3 151.5 735.8 151.7 740.1 151.9 739.7 152 741 152.2 745.6 152.4 736.8 152.5 733.5 152.7 743.6 152.8 735.2 153 737.9 153.2 736.2 153.3 733.5 153.5 732.5 153.6 739.7 153.8 733.2 154 738.4 154.1 747.9 154.3 727.2 154.5 736.1 154.6 737.6 154.8 730.1 154.9 734 155.1 738.4 155.3 734.8 155.4 734.2 155.6 736.4 155.8 746.1 155.9 734.6 156.1 739.3 156.2 739.7 156.4 734.6 156.6 725 156.7 739.9 156.9 732.9 157 740.8 157.2 741.2 157.4 735.5 157.5 729.5 157.7 732.2 157.9 732 158 727.6 158.2 730.8 158.3 735.5 158.5 737 158.7 733.9 158.8 730.9 159 733.8 159.1 733.4 159.3 734.8 159.5 735.8 159.6 737.5 159.8 735.7 160 724.1 160.1 727.3 160.3 726 160.4 731.7 160.6 732.9 160.8 728.8 160.9 734.3 161.1 727.6 161.2 732.3 161.4 729.4 161.6 736.7 161.7 725.2 161.9 732.6 162.1 730.7 162.2 737.2 162.4 737.2 162.5 731.1 162.7 741.8 162.9 729 163 737.4 163.2 730.6 163.3 738 163.5 735.4 163.7 734.9 163.8 731.2 164 739.3 164.2 733 164.3 734.2 164.5 732.1 164.6 739.4 164.8 735.6 165 738.9 165.1 737.3 165.3 730.7 165.4 730.1 165.6 739.6 165.8 736.1 165.9 735.6 166.1 739.5 166.3 736.9 166.4 739.9 166.6 732.5 166.7 739.2 166.9 728.5 167.1 743.6 167.2 732.1 167.4 731.9 167.5 737.5 167.7 742.2 167.9 733.7 168 740 168.2 729.6 168.4 733.9 168.5 734.5 168.7 733.9 168.8 731.1 169 734.5 169.2 732 169.3 732.9 169.5 736.9 169.6 729.6 169.8 727.4 170 729.7 170.1 734.2 170.3 731.7 170.5 739.6 170.6 738.6 170.8 738.9 170.9 737.6 171.1 731.4 171.3 738.8 171.4 738.1 171.6 813.5 171.8 802.3 171.9 812.6 172.1 813.4 172.2 818.7 172.4 814.7 172.6 819.2 172.7 813.4 172.9 807.5 173 811 173.2 813.6 173.4 815.6 173.5 814 173.7 821.3 173.9 818.9 174 801.9 174.2 812.7 174.3 815.1 174.5 815.2 174.7 803.7 174.8 813.8 175 811.3 175.1 818.7 175.3 818.3 175.5 804.3 175.6 795.9 175.8 814.2 176 818.4 176.1 804.1 176.3 808.1 176.4 810.4 176.6 803.9 176.8 812.3 176.9 809.5 177.1 807.1 177.2 815.1 177.4 808.5 177.6 816.9 177.7 808.6 177.9 810 178.1 834.7 178.2 810.3 178.4 817.5 178.5 816.6 178.7 818.6 178.9 807 179 812.3 179.2 812.6 179.3 804.9 179.5 807.4 179.7 812.6 179.8 820.5 180 807.7 180.2 812 180.3 812.5 180.5 807.3 180.6 813.7 180.8 811.2 181 806.6 181.1 810.9 181.3 813.7 181.4 806.8 181.6 805.4 181.8 801.9 181.9 813.9 182.1 814.7 182.3 805.8 182.4 808.7 182.6 812.3 182.7 811.2 182.9 816.4 183.1 813.8 183.2 813.8 183.4 808.9 183.5 813.6 183.7 817.4 183.9 810.5 184 803 184.2 804.4 184.4 823.7 184.5 814.7 184.7 807.1 184.8 810.4 185 810.4 185.2 811.4 185.3 810.5 185.5 815.5 185.6 805.2 185.8 815.6 186 815 186.1 805.5 186.3 805.7 186.5 810.8 186.6 810.8 186.8 813.5 186.9 813.1 187.1 811.8 187.3 805.8 187.4 812.8 187.6 808.1 187.7 808.7 187.9 808.8 188.1 812 188.2 807.3 188.4 810 188.6 812.3 188.7 812.9 188.9 822.8 189 807.6 189.2 807.5 189.4 816.1 189.5 813.2 189.7 810.2 189.9 815.3 190 807.4 190.2 807.3 190.3 809.7 190.5 807.4 190.7 819.5 190.8 808.2 191 812.7 191.1 805.5 191.3 805.7 191.5 806.8 191.6 811 191.8 799.2 192 815.1 192.1 817.2 192.3 806.1 192.4 817.4 192.6 801.7 192.8 805.9 192.9 804.4 193.1 805.7 193.2 809.5 193.4 816.7 193.6 813.4 193.7 811.1 193.9 818.2 194.1 811.6 194.2 813.7 194.4 814.2 194.5 809.2 194.7 807.1 194.9 810.5 195 815.7 195.2 818.3 195.3 801.2 195.5 815.9 195.7 814.6 195.8 814 196 806.4 196.2 814.1 196.3 808.1 196.5 809.2 196.6 815.9 196.8 809.9 197 817.9 197.1 811.4 197.3 807.7 197.4 812.1 197.6 814.9 197.8 812.6 197.9 811.5 198.1 809.1 198.3 821.3 198.4 819.2 198.6 808.4 198.7 811.3 198.9 810.7 199.1 814.2 199.2 811.5 199.4 812.8 199.5 810.2 199.7 812.4 199.9 809.2 200 810.7 200.2 815.6 200.4 809.7 200.5 816.1 200.7 813.9 200.8 810.1 201 810.2 201.2 678.9 201.3 668.7 201.3 587.8 201.5 681.1 201.6 685.8 201.8 687.1 202 682.8 202.1 690.5 202.3 694.2 202.5 694.8 202.6 695.2 202.8 695.5 202.9 697.1 203.1 700.6 203.3 700.4 203.4 709.4 203.6 704.7 203.7 714.5 203.9 705.9 204.1 705.7 204.2 710.2 204.4 709.9 204.6 703.6 204.7 710.6 204.9 709.7 205 702 205.2 709.8 205.4 707.9 205.5 710.7 205.7 710.9 205.8 709.2 206 715.9 206.2 712.4 206.3 718.6 206.5 719 206.7 715.2 206.8 721.4 207 731 207.1 720.9 207.3 714.6 207.5 725.3 207.6 718.7 207.8 723.4 208 728.9 208.1 724.1 208.3 733.3 208.4 718.3 208.6 725.8 208.8 722.8 208.9 724.9 209.1 731.9 209.2 727.5 209.4 721 209.6 723 209.7 728.7 209.9 730.6 210.1 728.2 210.2 734 210.4 727.5 210.5 736.3 210.7 732.7 210.9 726.1 211 730.2 211.2 733.5 211.3 730.3 211.5 732.5 211.7 730.7 211.8 727.4 212 733 212.2 740.1 212.3 730.8 212.5 736.3 212.6 727.7 212.8 728.6 213 733 213.1 731 213.3 739.6 213.4 741 213.6 734.9 213.8 732 213.9 727.7 214.1 736.8 214.3 738.1 214.4 737.9 214.6 737.6 214.7 733.7 214.9 740.9 215.1 731.4 215.2 740.8 215.4 725.1 215.5 735.8 215.7 734.9 215.9 742.8 216 734.3 216.2 744.1 216.4 732 216.5 738.7 216.7 734.8 216.8 733.7 217 731.8 217.2 730 217.3 731 217.5 732.7 217.6 738.7 217.8 741 218 732.7 218.1 734.5 218.3 738.2 218.5 736.1 218.6 731.7 218.8 731.8 218.9 738.4 219.1 741.5 219.3 744.2 219.4 737.7 219.6 737.1 219.7 741.5 219.9 731 220.1 727.3 220.2 739 220.4 732.4 220.6 736.1 220.7 733.1 220.9 734.9 221 736 221.2 731.5 221.4 732.6 221.5 737.5 221.7 733.5 221.8 738.3 222 735.8 222.2 732.9 222.3 733.5 222.5 742.4 222.7 732.9 222.8 740.8 223 734.5 223.1 732.3 223.3 741.9 223.5 740 223.6 731.6 223.8 733.7 224 744.2 224.1 730.7 224.3 737.5 224.4 739.9 224.6 733.5 224.8 737.3 224.9 734.3 225.1 733.2 225.2 723.6 225.4 730.1 225.6 733 225.7 733.6 225.9 732.4 226.1 731.7 226.2 736.6 226.4 731.5 226.5 736.7 226.7 736.2 226.9 734 227 729.1 227.2 729.9 227.3 746.6 227.5 728.2 227.7 733.3 227.8 733.2 228 727.1 228.2 736.7 228.3 738.2 228.5 742.3 228.6 738.8 228.8 730 229 737.2 229.1 738.2 229.3 732 229.4 738.2 229.6 737.1 229.8 737.3 229.9 732.1 230.1 736.9 230.3 736.1 230.4 734.8 230.6 742.1 230.7 735.2 230.9 742.1 231.1 739.5 231.2 736.4 231.4 733.8 231.5 735.5 231.7 729.8 231.9 734.1 232 732.1 232.2 736.8 232.4 737.6 232.5 727.5 232.7 742.2 232.8 729.9 233 738.4 233.2 732.3 233.3 741 233.5 733.2 233.6 734 233.8 744.8 234 738.4 234.1 732.8 234.3 731.2 234.5 734.4 234.6 738.2 234.8 736 234.9 741.5 235.1 740.2 235.3 734.9 235.4 735.9 235.6 732.8 235.7 735.2 235.9 733.4 236.1 736.5 236.2 733.4 236.4 725.3 236.6 740.4 236.7 735.6 236.9 738.3 237 734.1 237.2 734.3 237.4 740 237.5 735.8 237.7 735.6 237.8 737.1 238 735.4 238.2 730.8 238.3 734.3 238.5 738.2 238.7 736.2 238.8 728.6 239 740.2 239.1 732.7 239.3 740.7 239.5 745 239.6 741.1 239.8 736.8 239.9 739.4 240.1 741.6 240.3 742.1 240.4 743.1 240.6 743.6 240.8 741.8 240.9 750.2 241.1 737.4 241.2 738.2 241.4 739.1 241.6 735.6 241.7 742.3 241.9 739.8 242.1 751.2 242.2 739 242.4 741.6 242.5 737.2 242.7 736.1 242.9 740.6 243 745.3 243.2 738.2 243.3 735.9 243.5 735.6 243.7 741.8 243.8 743.5 244 740.5 244.2 743.8 244.3 748.6 244.5 737.5 244.6 737 244.8 736 245 742.5 245.1 738.8 245.3 743.9 245.4 744.9 245.6 736.3 245.8 746.2 245.9 739.6 246.1 727.7 246.3 732.6 246.4 734.9 246.6 735.2 246.7 738.7 246.9 740.4 247.1 728.9 247.2 738.6 247.4 740.3 247.5 734.8 247.7 738 247.9 732 248 740.5 248.2 741.4 248.4 739.6 248.5 730.9 248.7 733.9 248.8 736.9 249 737.8 249.2 736.8 249.3 742.6 249.5 736.2 249.6 740.7 249.8 737.6 250 738.6 250.1 737.5 250.3 740.9 250.5 734.8 250.6 737.5 250.8 742.6 250.9 737.3 251.1 740.8 251.3 737.7 251.4 735.7 251.6 741.6 251.7 739.6 251.9 739.2 252.1 739.3 252.2 730.6 252.4 737.9 252.6 744.5 252.7 739 252.9 741.8 253 728.7 253.2 742.1 253.4 744.2 253.5 736.1 253.7 741.5 253.8 740.9 254 740.2 254.2 742.1 254.3 740.9 254.5 748.7 254.7 739.5 254.8 736.2 255 730.8 255.1 738.7 255.3 735.3 255.5 742.1 255.6 732.5 255.8 729.1 255.9 737.5 256.1 740.5 256.3 738.8 256.4 732.2 256.6 744.5 256.8 733.5 256.9 743.6 257.1 742.9 257.2 738.2 257.4 736.6 257.6 735.3 257.7 733.3 257.9 744.7 258.1 739.5 258.2 736.5 258.4 738.8 258.5 735.2 258.7 740 258.9 741.6 259 750.2 259.2 748.7 259.3 737.1 259.5 745.7 259.7 739.4 259.8 738 260 741.4 260.2 736.5 260.3 743.9 260.5 738.5 260.6 741.7 260.8 747.8 261 750.1 261.1 742.2 261.3 734.2 261.4 736.3 261.6 739.4 261.8 738 261.9 737.6 262.1 742.7 262.3 735.9 262.4 740.5 262.6 743.9 262.7 724.7 262.9 738.8 263.1 742.3 263.2 738.4 263.4 747.1 263.5 747.2 263.7 733.3 263.9 739.1 264 746.6 264.2 749 264.4 742.3 264.5 746.5 264.7 736.1 264.8 750.5 265 736.6 265.2 746.5 265.3 747.5 265.5 741.9 265.6 747.7 265.8 744.7 266 744.6 266.1 752.9 266.3 747.4 266.5 740.7 266.6 751.4 266.8 748.3 266.9 746.4 267.1 738.3 267.3 738.3 267.4 735.8 267.6 746.7 267.7 738.8 267.9 741.5 268.1 748.3 268.2 740.3 268.4 742.6 268.6 745.6 268.7 747.5 268.9 749.8 269 740.4 269.2 740.7 269.4 744 269.5 744.4 269.7 745.3 269.8 739.2 270 741.7 270.2 750.4 270.3 742.1 270.5 740.3 270.7 745 270.8 744.3 271 744.8 271.1 739.2 271.3 743.7 271.5 741.9 271.6 741.3 271.8 734.6 271.9 748.1 272.1 730.8 272.3 746.5 272.4 741.9 272.6 744.4 272.8 740 272.9 738 273.1 729.9 273.2 734.8 273.4 743 273.6 738.8 273.7 739.1 273.9 742.4 274 736.7 274.2 738 274.4 741 274.5 741.9 274.7 735.5 274.9 739.1 275 733.1 275.2 734.4 275.3 743.6 275.5 747.4 275.7 737.7 275.8 740.8 276 742.3 276.2 740.8 276.3 731 276.5 738.4 276.6 728.8 276.8 733.7 277 744.9 277.1 735.1 277.3 730.3 277.4 744.9 277.6 742.6 277.8 737.4 277.9 739.3 278.1 729.2 278.3 740.7 278.4 729.2 278.6 743.1 278.7 740.7 278.9 735.4 279.1 734.6 279.2 736.2 279.4 729.7 279.5 728.9 279.7 728.2 279.9 737.5 280 733.2 280.2 738.4 280.4 730.8 280.5 747.7 280.7 740.3 280.8 738.4 281 739.7 281.2 730.4 281.3 743.9 281.5 741.3 281.6 743.1 281.8 737.9 282 741.9 282.1 733.6 282.3 733.8 282.5 747.3 282.6 747.4 282.8 734.1 282.9 736 283.1 744.9 283.3 737.9 283.4 743.3 283.6 734.1 283.7 743.6 283.9 740.4 284.1 735.4 284.2 737.3 284.4 732.7 284.6 735.5 284.7 744.1 284.9 736.3 285 742.3 285.2 730.8 285.4 730.1 285.5 732.1 285.7 727.3 285.8 733.6 286 730.6 286.2 733 286.3 733.3 286.5 733.4 286.7 736 286.8 729.3 287 742.4 287.1 744.6 287.3 741.1 287.5 730.6 287.6 739.1 287.8 741.6 287.9 741.9 288.1 736.2 288.3 738.6 288.4 733.1 288.6 740.1 288.8 734.7 288.9 742.8 289.1 736.7 289.2 725.6 289.4 740.3 289.6 740.1 289.7 735.4 289.9 744.3 290 742.1 290.2 742.7 290.4 739.2 290.5 746.7 290.7 734.3 290.9 740.2 291 740.2 291.2 741.9 291.3 741.5 291.5 751.8 291.7 735.8 291.8 745.7 292 738.1 292.2 742.6 292.3 743 292.5 740 292.6 734.8 292.8 742.8 293 745.1 293.1 740.5 293.3 753.8 293.4 746.6 293.6 747.2 293.8 744.5 293.9 749 294.1 739.1 294.3 744.3 294.4 742.3 294.6 742.9 294.7 744.4 294.9 745.9 295.1 737.1 295.2 739.2 295.4 736.1 295.5 743.5 295.7 741.5 295.9 741.1 296 744.1 296.2 742.7 296.4 749.7 296.5 747.7 296.7 746.4 296.8 747.3 297 740.1 297.2 740.3 297.3 740 297.5 742.9 297.6 737.1 297.8 737.4 298 738.8 298.1 742.8 298.3 734.3 298.5 746.4 298.6 748.3 298.8 746.7 298.9 735.4 299.1 740.3 299.3 743.2 299.4 750.9 299.6 741.4 299.7 744.8 299.9 749.6 300.1 735.2 300.2 739.9 300.4 733.7 300.6 739.9 300.7 737.3 300.9 742.8 301 736.8 301.2 741.4 301.4 736.8 301.5 738.5 301.7 744.4 301.8 739.3 302 738.7 302.2 742.5 302.3 739.9 302.5 735.3 302.7 733.9 302.8 739.2 303 749.8 303.1 736.3 303.3 731.5 303.5 740.9 303.6 743.8 303.8 738.7 303.9 739.2 304.1 736.3 304.3 743.2 304.4 732.7 304.6 736.6 304.8 745.4 304.9 736.3 305.1 741.7 305.2 738.1 305.4 739.8 305.6 741.3 305.7 740.2 305.9 743.6 306 745.2 306.2 743 306.4 743.3 306.5 740.4 306.7 741.4 306.9 749.6 307 738.6 307.2 742.6 307.3 738.6 307.5 739.5 307.7 741.3 307.8 740 308 749 308.1 735.7 308.3 733.9 308.5 739.8 308.6 744.9 308.8 739.5 309 744.1 309.1 735.3 309.3 744.5 309.4 747.7 309.6 746.2 309.8 745.8 309.9 739.2 310.1 742.6 310.3 741.1 310.4 743.8 310.6 736.4 310.7 742.1 310.9 741.2 311.1 735 311.2 740.7 311.4 744.3 311.5 742.9 311.7 736.7 311.9 740 312 745.1 312.2 736.3 312.4 747.9 312.5 750.9 312.7 745.6 312.8 749.6 313 741.9 313.2 740.7 313.3 742 313.5 743.2 313.6 745.3 313.8 736.3 314 749.1 314.1 736.9 314.3 738.9 314.5 740.3 314.6 737.9 314.8 746.7 314.9 735.3 315.1 737.3 315.3 734.5 315.4 748.6 315.6 738.2 315.7 739.8 315.9 749.4 316.1 740.6 316.2 738.8 316.4 742.5 316.6 737.2 316.7 736.4 316.9 740.9 317 740.4 317.2 735.4" fill="none" stroke="#000" stroke-width="1.5" stroke-linejoin="round" />
<path d="M26.3 793.3L26.5 795.6 26.6 798.3 26.8 801.3 26.9 805.5 27.1 806.5 27.3 809.6 27.4 806.8 27.6 808.3 27.8 810.6 27.9 808.8 28.1 808.2 28.2 807.4 28.4 806.6 28.6 807.7 28.7 808.1 28.9 809.1 29 808.4 29.2 810.3 29.4 807.6 29.5 808.9 29.7 807.4 29.9 808.3 30 810 30.2 809.7 30.3 809.8 30.5 809.8 30.7 814.1 30.8 811.7 31 807.3 31.1 810.4 31.3 808.3 31.5 811.4 31.6 813 31.8 811.1 32 811.2 32.1 811.9 32.3 808.7 32.4 808.4 32.6 811.7 32.8 807.5 32.9 809.2 33.1 812.5 33.2 809 33.4 810 33.6 810.6 33.7 813.2 33.9 809.9 34.1 811.9 34.2 807.8 34.4 812.3 34.5 813 34.7 809.9 34.9 812.5 35 808.3 35.2 812.1 35.4 809.5 35.5 812.3 35.7 811.5 35.8 810.4 36 811.8 36.2 809.6 36.3 811.8 36.5 808.4 36.6 809.3 36.8 813.3 37 807.5 37.1 810.2 37.3 812 37.5 810.3 37.6 810.5 37.8 809.4 37.9 809.3 38.1 808.8 38.3 812.7 38.4 810.2 38.6 811.6 38.7 813.1 38.9 811.9 39.1 812.3 39.2 809.9 39.4 811 39.6 809.9 39.7 810.5 39.9 810.1 40 809.5 40.2 811.5 40.4 810.4 40.5 810.4 40.7 810.9 40.8 811.6 41 809.5 41.2 808.9 41.3 806.9 41.5 809.4 41.7 809.3 41.8 811.4 42 809.7 42.1 807.5 42.3 806.3 42.5 808.6 42.6 806.7 42.8 806.6 42.9 805.9 43.1 808 43.3 810.1 43.4 808.8 43.6 807.1 43.8 809.9 43.9 809 44.1 810.3 44.2 809.8 44.4 811.2 44.6 807 44.7 810 44.9 808.7 45 808 45.2 809.3 45.4 810.6 45.5 809.8 45.7 810.5 45.9 808.6 46 809.7 46.2 806.9 46.3 809.3 46.5 807.8 46.7 810.1 46.8 811.5 47 809.2 47.1 807 47.3 807 47.5 806.6 47.6 809.1 47.8 809 48 808.2 48.1 808.9 48.3 807.4 48.4 806.9 48.6 806.7 48.8 809.4 48.9 805.7 49.1 811 49.2 808.4 49.4 808.7 49.6 807.8 49.7 808.1 49.9 805.8 50.1 808.8 50.2 806.3 50.4 809.2 50.5 807.4 50.7 806.6 50.9 805.6 51 808.9 51.2 810.5 51.3 804.2 51.5 808.3 51.7 807.3 51.8 807 52 804.5 52.2 805.5 52.3 804.7 52.5 804.4 52.6 805.7 52.8 806.9 53 804.4 53.1 804.9 53.3 806 53.5 809.4 53.6 807.4 53.8 805.8 53.9 807.3 54.1 805.1 54.3 802.4 54.4 806.5 54.6 806.1 54.7 805.3 54.9 803.9 55.1 810.2 55.2 807.7 55.4 804.6 55.6 807 55.7 809.8 55.9 806.2 56 809.2 56.2 805.7 56.4 805.6 56.5 807.8 56.7 699.6 56.8 695.3 57 699.1 57.2 699.9 57.3 701.9 57.5 702.6 57.7 705.1 57.8 700.3 58 699.6 58.1 706.1 58.3 707.7 58.5 701.3 58.6 699.8 58.8 702.4 58.9 700.6 59.1 701.9 59.3 704.3 59.4 705.6 59.6 707.3 59.8 705.3 59.9 710.8 60.1 700.5 60.2 708.9 60.4 704.6 60.6 704.4 60.7 706 60.9 705.9 61 708.4 61.2 707.3 61.4 703.7 61.5 703.9 61.7 710.5 61.9 706.6 62 712.1 62.2 706.8 62.3 706.4 62.5 711.1 62.7 702.2 62.8 711.3 63 703.1 63.1 712.4 63.3 704.9 63.5 713.5 63.6 709 63.8 711.5 64 706.3 64.1 709.9 64.3 708 64.4 706.5 64.6 710.5 64.8 709.2 64.9 706.5 65.1 710.3 65.2 706 65.4 713 65.6 700.8 65.7 703.8 65.9 712 66.1 709.9 66.2 708.5 66.4 705.6 66.5 705 66.7 704 66.9 703.8 67 711.1 67.2 707 67.3 708.1 67.5 705.7 67.7 708.2 67.8 713.5 68 709.4 68.2 699.9 68.3 707.9 68.5 704.1 68.6 708.2 68.8 709 69 708 69.1 708.9 69.3 705.5 69.5 709.7 69.6 714.3 69.8 705.5 69.9 706.7 70.1 709.8 70.3 708.9 70.4 706.1 70.6 707.3 70.7 711.7 70.9 704.2 71.1 700.4 71.2 708.5 71.4 711.7 71.6 705.1 71.7 704 71.9 711.2 72 713.1 72.2 712.6 72.4 709.8 72.5 711.7 72.7 709.6 72.8 709.5 73 713.2 73.2 706.9 73.3 703.4 73.5 714.3 73.7 708.5 73.8 709 74 709.9 74.1 707.2 74.3 710.7 74.5 704.6 74.6 708.3 74.8 710.4 74.9 705.7 75.1 706.6 75.3 702.3 75.4 706.3 75.6 707.9 75.8 700.6 75.9 705.9 76.1 705.4 76.2 701.8 76.4 708.2 76.6 706.7 76.7 708.8 76.9 700.1 77 709 77.2 709.8 77.4 709.8 77.5 700.3 77.7 702.6 77.9 708.2 78 708.3 78.2 698.4 78.3 707.8 78.5 705.5 78.7 707.9 78.8 697.5 79 707.7 79.1 709.9 79.3 704.7 79.5 704.3 79.6 706.1 79.8 707.4 80 710.9 80.1 707.8 80.3 698.9 80.4 710.1 80.6 700.7 80.8 697.4 80.9 700.4 81.1 703.5 81.2 700.5 81.4 700.5 81.6 708.9 81.7 702.7 81.9 707.8 82.1 711.2 82.2 701.5 82.4 707.2 82.5 703.8 82.7 708.9 82.9 701.5 83 702.8 83.2 705.8 83.3 707.8 83.5 707.2 83.7 704.4 83.8 707 84 708.2 84.2 703 84.3 703.7 84.5 701.6 84.6 702 84.8 708.6 85 704.3 85.1 707.5 85.3 709 85.4 704.1 85.6 705.3 85.8 703 85.9 705.6 86.1 702 86.3 704.6 86.4 703.1 86.6 700.5 86.7 698.1 86.9 704.8 87.1 710 87.2 708.4 87.4 699.4 87.6 697.6 87.7 700.4 87.9 698.2 88 704.1 88.2 704.6 88.4 698.6 88.5 700.2 88.7 700.9 88.8 700.6 89 702.6 89.2 707.8 89.3 698.8 89.5 701.6 89.7 704.7 89.8 704 90 699.6 90.1 704.5 90.3 706 90.5 701.2 90.6 699.7 90.8 699.5 90.9 699.8 91.1 701.6 91.3 703.3 91.4 708.8 91.6 703.3 91.8 704.9 91.9 697.8 92.1 704.7 92.2 702.2 92.4 700.8 92.6 707 92.7 707.2 92.9 699.6 93 699.9 93.2 709.1 93.4 703.7 93.5 699.7 93.7 706.6 93.9 704 94 703.9 94.2 705.4 94.3 706 94.5 712.9 94.7 708.1 94.8 705.7 95 704 95.1 699 95.3 696.9 95.5 700.4 95.6 704.2 95.8 708.3 96 705.5 96.1 701.4 96.3 705.3 96.4 704.1 96.6 700.9 96.8 707.9 96.9 707.2 97.1 700.2 97.2 703.2 97.4 702 97.6 704.2 97.7 708.3 97.9 700.8 98.1 706.4 98.2 703.5 98.4 703.3 98.5 703.7 98.7 708.9 98.9 703.7 99 709.5 99.2 704.4 99.3 706.8 99.5 700.8 99.7 707.5 99.8 706.2 100 706.3 100.2 712.1 100.3 706.8 100.5 706.2 100.6 708.6 100.8 706.7 101 705.4 101.1 705.2 101.3 704.7 101.4 703.2 101.6 703 101.8 707.6 101.9 705.7 102.1 706.9 102.3 708.3 102.4 708.5 102.6 710.4 102.7 706.4 102.9 704 103.1 708.5 103.2 708.7 103.4 710.2 103.6 711.5 103.7 710.9 103.9 706.9 104 712.8 104.2 702.5 104.4 705.1 104.5 707.6 104.7 709.7 104.8 705 105 709 105.2 701.8 105.3 708.5 105.5 706.6 105.7 710.8 105.8 704.7 106 706.6 106.1 706.6 106.3 702.9 106.5 711 106.6 714.1 106.8 714.5 106.9 710.5 107.1 709.4 107.3 709.4 107.4 706.7 107.6 704.7 107.8 710.4 107.9 704.1 108.1 709.7 108.2 711 108.4 705.5 108.6 705 108.7 705.5 108.9 710.7 109 703.1 109.2 706.1 109.4 709.7 109.5 707.1 109.7 706.5 109.9 707.2 110 708.8 110.2 701.7 110.3 708.5 110.5 705.7 110.7 707 110.8 706 111 712 111.1 700.6 111.3 702.2 111.5 707.1 111.6 703.4 111.8 706.8 112 704.6 112.1 707.5 112.3 712.2 112.4 709.3 112.6 709.3 112.8 709.8 112.9 714.1 113.1 708.6 113.2 706.1 113.4 706.9 113.6 710.7 113.7 703 113.9 709 114.1 707.2 114.2 709.1 114.4 711 114.5 708.1 114.7 711.5 114.9 712 115 714.5 115.2 708 115.3 706.6 115.5 708.6 115.7 709.6 115.8 708.9 116 705.6 116.2 709.6 116.3 708.1 116.5 706.7 116.6 708.1 116.8 706.5 117 705.3 117.1 708.1 117.3 701.1 117.4 709.1 117.6 706.8 117.8 705.9 117.9 706.6 118.1 709.9 118.3 706.1 118.4 709 118.6 706.4 118.7 704.2 118.9 703.3 119.1 705.7 119.2 707 119.4 698.7 119.5 705.6 119.7 699.6 119.9 707.6 120 704.4 120.2 700.1 120.4 707.8 120.5 708.7 120.7 702 120.8 700.1 121 702.5 121.2 703.7 121.3 706.8 121.5 704.1 121.7 702.5 121.8 706.5 122 710.5 122.1 702 122.3 709.2 122.5 709.9 122.6 707.3 122.8 702.5 122.9 710.1 123.1 706 123.3 700.5 123.4 705.1 123.6 707.2 123.8 709.1 123.9 711.6 124.1 702.5 124.2 711.1 124.4 706.6 124.6 704 124.7 709 124.9 707.9 125 704.1 125.2 706.9 125.4 703.6 125.5 703.9 125.7 702.7 125.9 711.8 126 706.4 126.2 707.1 126.3 708 126.5 712.6 126.7 707.8 126.8 703.3 127 704.2 127.1 709.3 127.3 707.4 127.5 707.4 127.6 704.4 127.8 709 128 708.8 128.1 711.1 128.3 704.2 128.4 700.7 128.6 705.2 128.8 704.5 128.9 703.8 129.1 709.7 129.2 704.2 129.4 701.3 129.6 702.7 129.7 706.4 129.9 708.1 130.1 707.7 130.2 701.9 130.4 707.4 130.5 705.1 130.7 704.6 130.9 706.2 131 708.1 131.2 703.9 131.3 707.5 131.5 706.4 131.7 701.5 131.8 702.8 132 711.7 132.2 708.4 132.3 702.6 132.5 707.7 132.6 702.4 132.8 701.6 133 701.6 133.1 699.4 133.3 708.8 133.4 707.5 133.6 706.3 133.8 706.2 133.9 701.8 134.1 703.3 134.3 707.3 134.4 706.1 134.6 708.5 134.7 705.8 134.9 708.8 135.1 698.8 135.2 702.1 135.4 705.7 135.5 705.1 135.7 702.2 135.9 704.6 136 700.7 136.2 704 136.4 697.4 136.5 702.4 136.7 707.9 136.8 707.6 137 706.1 137.2 698.9 137.3 705.4 137.5 701.5 137.7 708.8 137.8 702.7 138 707.7 138.1 705.8 138.3 704.3 138.5 708.6 138.6 696.9 138.8 707.7 138.9 705.7 139.1 698.8 139.3 701.2 139.4 711.7 139.6 702.8 139.8 700.7 139.9 707.3 140.1 704.1 140.2 706.4 140.4 706.4 140.6 698.6 140.7 700.9 140.9 706.6 141 707.8 141.2 701.6 141.4 703.2 141.5 704.9 141.7 703.1 141.9 708 142 706.2 142.2 706.2 142.3 700 142.5 703.9 142.7 707 142.8 706.2 143 700.4 143.1 702.6 143.3 705.4 143.5 704.8 143.6 701.3 143.8 704.6 144 704.3 144.1 705.7 144.3 711.1 144.4 701.6 144.6 703.9 144.8 700.7 144.9 693.5 145.1 704.2 145.2 701.2 145.4 704.1 145.6 705.2 145.7 705.4 145.9 703.9 146.1 702.5 146.2 697.1 146.4 701.4 146.5 704.2 146.7 699.3 146.9 705.1 147 700 147.2 701.4 147.3 703.8 147.5 700.6 147.7 698.5 147.8 700 148 707.8 148.2 707.4 148.3 702.3 148.5 702.8 148.6 706.4 148.8 699.5 149 700.4 149.1 698.1 149.3 701 149.4 696.4 149.6 703.9 149.8 703 149.9 699.7 150.1 700.6 150.3 706.5 150.4 704.2 150.6 699.8 150.7 701.2 150.9 703.8 151.1 702.4 151.2 701.8 151.4 701.9 151.5 699.7 151.7 699 151.9 703.3 152 693.5 152.2 699.6 152.4 700.8 152.5 694.3 152.7 700 152.8 703.5 153 703.8 153.2 701.3 153.3 701.3 153.5 704.6 153.6 700.1 153.8 701.4 154 694.5 154.1 697 154.3 700.9 154.5 694.8 154.6 698.5 154.8 704 154.9 697.7 155.1 693 155.3 697.2 155.4 699.3 155.6 697.1 155.8 699.1 155.9 695.4 156.1 696.4 156.2 698.2 156.4 694.7 156.6 691.9 156.7 696.2 156.9 693.3 157 694.8 157.2 698 157.4 697.4 157.5 692.9 157.7 696.4 157.9 694.7 158 702.7 158.2 695.5 158.3 703.4 158.5 691.9 158.7 697.1 158.8 695.4 159 700.3 159.1 698.5 159.3 701.7 159.5 701.4 159.6 697.7 159.8 699.5 160 699.4 160.1 698.9 160.3 694.1 160.4 695.2 160.6 692.4 160.8 699 160.9 700 161.1 697.4 161.2 695.7 161.4 702.4 161.6 695.8 161.7 698.7 161.9 696.2 162.1 696.6 162.2 698.4 162.4 699.9 162.5 698.1 162.7 693.8 162.9 702.6 163 696.6 163.2 697.5 163.3 697.6 163.5 696.3 163.7 695.5 163.8 696.8 164 692.7 164.2 697.7 164.3 690 164.5 702.8 164.6 691.8 164.8 698 165 700.8 165.1 699.8 165.3 698.7 165.4 696.7 165.6 697.5 165.8 693.2 165.9 697.9 166.1 698.4 166.3 698.7 166.4 696 166.6 697.6 166.7 693.1 166.9 699.8 167.1 699.3 167.2 699.7 167.4 700.8 167.5 699.8 167.7 701.4 167.9 705.6 168 704.2 168.2 702.5 168.4 707.2 168.5 701.8 168.7 697.3 168.8 698.4 169 704.5 169.2 704.2 169.3 701.2 169.5 702 169.6 697.7 169.8 699.1 170 698.7 170.1 700.4 170.3 696.6 170.5 698.9 170.6 691.1 170.8 696.9 170.9 698.7 171.1 699.9 171.3 700.9 171.4 702.3 171.6 812.3 171.8 811.8 171.9 810.1 172.1 812.1 172.2 811.1 172.4 812 172.6 812.8 172.7 811.6 172.9 811.5 173 812.8 173.2 812.8 173.4 812.6 173.5 815.7 173.7 811.9 173.9 814.6 174 808.7 174.2 812.6 174.3 811.9 174.5 811.7 174.7 815 174.8 809.8 175 813.2 175.1 810.4 175.3 810 175.5 810.7 175.6 816.7 175.8 813.9 176 812.8 176.1 814.1 176.3 812.1 176.4 809.5 176.6 810 176.8 812.7 176.9 813.8 177.1 810.7 177.2 810.8 177.4 812.4 177.6 813.3 177.7 809.4 177.9 809.2 178.1 809.8 178.2 810.6 178.4 812.5 178.5 811.4 178.7 813.6 178.9 809.3 179 813.6 179.2 813.1 179.3 812.3 179.5 812.1 179.7 809.4 179.8 810.5 180 813 180.2 811.2 180.3 811.3 180.5 809.3 180.6 814.4 180.8 812.6 181 813.4 181.1 811.4 181.3 810.2 181.4 812 181.6 808.1 181.8 813.1 181.9 811.3 182.1 812.6 182.3 813.8 182.4 812.2 182.6 811.4 182.7 812.5 182.9 812.5 183.1 811.5 183.2 812.4 183.4 809.8 183.5 810.3 183.7 811.1 183.9 809.5 184 814.8 184.2 812.7 184.4 809 184.5 812.5 184.7 809.5 184.8 810.3 185 810.8 185.2 811.3 185.3 812.9 185.5 813.4 185.6 813.7 185.8 810.2 186 811 186.1 810.4 186.3 812.8 186.5 810.8 186.6 809.1 186.8 812.1 186.9 811.7 187.1 811.5 187.3 807.6 187.4 809.1 187.6 807.8 187.7 806.6 187.9 811.3 188.1 810.4 188.2 814.8 188.4 810.8 188.6 811.8 188.7 810.9 188.9 810.7 189 814.5 189.2 810.4 189.4 811.7 189.5 813 189.7 811.9 189.9 809.6 190 812 190.2 808.6 190.3 810.1 190.5 810.9 190.7 812.4 190.8 812.3 191 809 191.1 810.9 191.3 810.4 191.5 810.3 191.6 809.4 191.8 809.5 192 811.3 192.1 810.2 192.3 810.9 192.4 809.7 192.6 813.1 192.8 810.9 192.9 808.4 193.1 812.6 193.2 811.6 193.4 810.2 193.6 812.5 193.7 810.4 193.9 810 194.1 809.3 194.2 810.2 194.4 810 194.5 811.2 194.7 810.1 194.9 810.1 195 809.8 195.2 809.3 195.3 809.4 195.5 809.5 195.7 810.2 195.8 810.5 196 811.5 196.2 809.6 196.3 808.7 196.5 811.5 196.6 809.7 196.8 811 197 811.1 197.1 812.5 197.3 811.3 197.4 809.9 197.6 810.1 197.8 809.6 197.9 812.1 198.1 814.6 198.3 809.9 198.4 811.2 198.6 810 198.7 808.2 198.9 809.5 199.1 814.7 199.2 812.1 199.4 811.9 199.5 808.8 199.7 812.7 199.9 812 200 809.8 200.2 814.5 200.4 812.6 200.5 814 200.7 813.5 200.8 811 201 811.8 201.2 684.2 201.2 655.9 201.3 685 201.5 687.3 201.6 687.1 201.8 686.3 202 691.5 202.1 689.5 202.3 692.5 202.5 689 202.6 689 202.8 691.9 202.9 691.7 203.1 697.6 203.3 698.1 203.4 696.3 203.6 698 203.7 695.1 203.9 697.6 204.1 701.2 204.2 700.3 204.4 696.2 204.6 689.2 204.7 696.6 204.9 702 205 696.2 205.2 699.2 205.4 701.3 205.5 688.3 205.7 689 205.8 697 206 696.9 206.2 697.7 206.3 694 206.5 693.9 206.7 693.1 206.8 700.2 207 697.5 207.1 693.9 207.3 696 207.5 701.4 207.6 696.5 207.8 693.2 208 703.4 208.1 691.3 208.3 696.9 208.4 691.5 208.6 693.2 208.8 695.1 208.9 696.6 209.1 696.8 209.2 698.5 209.4 695.8 209.6 695.2 209.7 701.2 209.9 698.3 210.1 704.1 210.2 701.5 210.4 699 210.5 694.9 210.7 696.5 210.9 696.3 211 698.2 211.2 700.5 211.3 694.1 211.5 694.7 211.7 700.8 211.8 698.1 212 696 212.2 700.9 212.3 700.1 212.5 696.2 212.6 697.3 212.8 694.7 213 698.9 213.1 696 213.3 696.5 213.4 692 213.6 700.9 213.8 698.6 213.9 701.8 214.1 696.6 214.3 696.4 214.4 693.3 214.6 699.4 214.7 696.1 214.9 698.1 215.1 693.3 215.2 698.7 215.4 699.4 215.5 696 215.7 699 215.9 700.9 216 704.4 216.2 697 216.4 694.4 216.5 698 216.7 695 216.8 699.4 217 695.6 217.2 695.2 217.3 699.2 217.5 702.3 217.6 698.5 217.8 697.4 218 695 218.1 703.6 218.3 692.4 218.5 695.2 218.6 697.8 218.8 700.4 218.9 698.9 219.1 695.4 219.3 695.4 219.4 695.5 219.6 701.8 219.7 698.2 219.9 696.7 220.1 697.4 220.2 698.7 220.4 696.2 220.6 692.7 220.7 700.8 220.9 692.7 221 699.8 221.2 699.8 221.4 700 221.5 694.2 221.7 695.3 221.8 693.4 222 699.5 222.2 700.8 222.3 690.2 222.5 695.3 222.7 705.2 222.8 700.6 223 697.1 223.1 692.6 223.3 691.3 223.5 700.9 223.6 695.3 223.8 698.2 224 698.6 224.1 699 224.3 701.7 224.4 700.7 224.6 698.9 224.8 696.3 224.9 702.4 225.1 693.2 225.2 699.1 225.4 695.3 225.6 701.1 225.7 701.9 225.9 694.4 226.1 696.2 226.2 704.4 226.4 696.5 226.5 703.4 226.7 696.6 226.9 695.6 227 698.1 227.2 699.2 227.3 698.7 227.5 698.3 227.7 700.7 227.8 696.6 228 699.9 228.2 703.5 228.3 696.8 228.5 692 228.6 694.2 228.8 698.2 229 699.9 229.1 699.1 229.3 693 229.4 694.8 229.6 699.9 229.8 696.3 229.9 692 230.1 696.5 230.3 696.3 230.4 698.4 230.6 701.9 230.7 693.5 230.9 694.1 231.1 693.8 231.2 691.9 231.4 696.2 231.5 697.2 231.7 694.3 231.9 699.6 232 702 232.2 696.7 232.4 697.5 232.5 698.3 232.7 695 232.8 692.9 233 697.3 233.2 701.7 233.3 700.7 233.5 698.1 233.6 695.8 233.8 695.1 234 693.4 234.1 688.4 234.3 698.2 234.5 691.6 234.6 695.6 234.8 694.4 234.9 696.1 235.1 691.5 235.3 692.3 235.4 690.2 235.6 688.3 235.7 699.5 235.9 695.5 236.1 692.3 236.2 692 236.4 693.6 236.6 697.7 236.7 688.9 236.9 698.6 237 692.7 237.2 697.2 237.4 696.9 237.5 693.2 237.7 698.9 237.8 693.8 238 696.2 238.2 700 238.3 697 238.5 696.2 238.7 694.9 238.8 693.6 239 701.8 239.1 700 239.3 700 239.5 702.3 239.6 691.5 239.8 699.5 239.9 699 240.1 699.5 240.3 701.1 240.4 695.3 240.6 697.9 240.8 700.6 240.9 699.5 241.1 697.2 241.2 697.6 241.4 695.8 241.6 694.5 241.7 700.3 241.9 701.8 242.1 700.2 242.2 698.3 242.4 700.7 242.5 697.7 242.7 702.6 242.9 698.8 243 697.6 243.2 701.4 243.3 696.2 243.5 693.3 243.7 708.5 243.8 701.1 244 699.2 244.2 696.1 244.3 701.7 244.5 697.9 244.6 693.8 244.8 697.4 245 700.1 245.1 700.1 245.3 697.4 245.4 696.6 245.6 696.8 245.8 697.9 245.9 704.8 246.1 700.4 246.3 698.7 246.4 697 246.6 695.7 246.7 699.4 246.9 695 247.1 692.1 247.2 695.4 247.4 694.4 247.5 698.1 247.7 699.8 247.9 695 248 695.2 248.2 692.9 248.4 697.2 248.5 699.3 248.7 699.2 248.8 695.1 249 702.1 249.2 691.5 249.3 696.9 249.5 695.5 249.6 696.3 249.8 690.3 250 699.5 250.1 692.9 250.3 693.8 250.5 691.3 250.6 692.2 250.8 698.4 250.9 700.2 251.1 701.9 251.3 696 251.4 693.4 251.6 694.5 251.7 696.3 251.9 693.4 252.1 699.6 252.2 691 252.4 690.3 252.6 691.1 252.7 692.8 252.9 689.5 253 699.8 253.2 698.6 253.4 695.2 253.5 695.3 253.7 696.4 253.8 693.7 254 696.4 254.2 690.1 254.3 695.2 254.5 703.1 254.7 696.8 254.8 697.8 255 700.2 255.1 692.5 255.3 699 255.5 702 255.6 697.4 255.8 690.2 255.9 696.1 256.1 690.2 256.3 694.3 256.4 690.5 256.6 694.4 256.8 694.7 256.9 706.5 257.1 701.4 257.2 701.6 257.4 698.1 257.6 694.1 257.7 694.8 257.9 695.3 258.1 703.7 258.2 700.8 258.4 698.2 258.5 695.9 258.7 697.2 258.9 700.7 259 702.6 259.2 694.6 259.3 701.2 259.5 698.5 259.7 698 259.8 696.6 260 700.7 260.2 702.3 260.3 699.1 260.5 701.4 260.6 698.2 260.8 703.8 261 700.3 261.1 703.3 261.3 692.3 261.4 705.4 261.6 701.4 261.8 701 261.9 702 262.1 704.6 262.3 703.8 262.4 701.5 262.6 696.3 262.7 697.1 262.9 695.6 263.1 703.4 263.2 701.4 263.4 697.9 263.5 700.6 263.7 701.9 263.9 702.6 264 700.4 264.2 705.2 264.4 702.6 264.5 706.6 264.7 701.7 264.8 702.6 265 704.7 265.2 709 265.3 705.1 265.5 699.4 265.6 706.5 265.8 703.6 266 710.4 266.1 708.1 266.3 704.7 266.5 701.6 266.6 701.8 266.8 706.4 266.9 698.2 267.1 713.4 267.3 709.1 267.4 700.6 267.6 699.8 267.7 698.3 267.9 706.7 268.1 708.4 268.2 708.6 268.4 706.8 268.6 702.2 268.7 704.8 268.9 704.8 269 701.4 269.2 704 269.4 702.7 269.5 698.4 269.7 705.5 269.8 702.8 270 705.6 270.2 700.5 270.3 706.7 270.5 705.9 270.7 700.6 270.8 709.3 271 696.6 271.1 700.4 271.3 702.9 271.5 703.4 271.6 700.4 271.8 700.7 271.9 705.1 272.1 701.2 272.3 704.4 272.4 703.1 272.6 701.3 272.8 700.7 272.9 701.8 273.1 700.9 273.2 701.7 273.4 701.2 273.6 694.9 273.7 695.1 273.9 702.5 274 706.5 274.2 696.5 274.4 692.8 274.5 699.5 274.7 697.3 274.9 698.2 275 697 275.2 699.7 275.3 697.9 275.5 698.6 275.7 698.6 275.8 697 276 702 276.2 693.8 276.3 697 276.5 696.6 276.6 699.6 276.8 703.8 277 697.5 277.1 698.7 277.3 705 277.4 693.3 277.6 692.1 277.8 698 277.9 695.5 278.1 692.1 278.3 694.9 278.4 706.3 278.6 692.9 278.7 703 278.9 698.5 279.1 691.8 279.2 699.6 279.4 701.9 279.5 697.3 279.7 697.9 279.9 703.9 280 692.2 280.2 697.1 280.4 697.5 280.5 696.8 280.7 696.7 280.8 692.7 281 697.7 281.2 699.1 281.3 695.6 281.5 696.3 281.6 695 281.8 700.1 282 695.8 282.1 695.5 282.3 700.8 282.5 695.9 282.6 697.7 282.8 693.1 282.9 692.4 283.1 696.8 283.3 701.7 283.4 698.2 283.6 701 283.7 700.9 283.9 694.2 284.1 696.6 284.2 699.4 284.4 701.9 284.6 697.9 284.7 694.2 284.9 696.6 285 697.8 285.2 697.8 285.4 694.1 285.5 695.7 285.7 697.8 285.8 705.1 286 696 286.2 697.6 286.3 698.2 286.5 694.3 286.7 700.5 286.8 696.9 287 697.3 287.1 702.3 287.3 698.2 287.5 697 287.6 693.8 287.8 695.5 287.9 697.2 288.1 694.6 288.3 703.8 288.4 698.3 288.6 699.4 288.8 695.2 288.9 691.1 289.1 694.4 289.2 693.5 289.4 694 289.6 691.4 289.7 700.2 289.9 695 290 699.3 290.2 698.3 290.4 694.5 290.5 694.2 290.7 697.4 290.9 693.7 291 697.4 291.2 697.9 291.3 697.6 291.5 697.6 291.7 694.2 291.8 694.6 292 699.5 292.2 698.9 292.3 700.3 292.5 697.5 292.6 698.7 292.8 698.8 293 704.4 293.1 700.5 293.3 703.9 293.4 705.8 293.6 702.9 293.8 704.7 293.9 702.6 294.1 703.2 294.3 705.3 294.4 704.1 294.6 705.4 294.7 707.1 294.9 710 295.1 704.9 295.2 705.7 295.4 705.9 295.5 712.9 295.7 713.5 295.9 710.3 296 708.7 296.2 711.3 296.4 707.9 296.5 714.6 296.7 709.6 296.8 717.5 297 714 297.2 714.8 297.3 709.5 297.5 713.3 297.6 711.4 297.8 708.7 298 713.4 298.1 708.5 298.3 714.4 298.5 707.3 298.6 714.5 298.8 715.2 298.9 710 299.1 706.9 299.3 717 299.4 708.1 299.6 707.5 299.7 710 299.9 715.5 300.1 714.3 300.2 709.4 300.4 717.9 300.6 707.3 300.7 705.1 300.9 714.8 301 714.2 301.2 708.2 301.4 712.6 301.5 708.1 301.7 711.5 301.8 711.6 302 710.2 302.2 707.6 302.3 707.6 302.5 709.6 302.7 704.8 302.8 704.2 303 706.4 303.1 713.2 303.3 710.7 303.5 709.1 303.6 706.6 303.8 703.8 303.9 709.8 304.1 703.7 304.3 711.3 304.4 706.3 304.6 708.5 304.8 707.7 304.9 702.7 305.1 707.7 305.2 706 305.4 700.5 305.6 705 305.7 710.1 305.9 709 306 706.9 306.2 704.4 306.4 704.1 306.5 710.3 306.7 708.3 306.9 708.7 307 704.5 307.2 703.1 307.3 704.8 307.5 702.4 307.7 704.5 307.8 703.5 308 699 308.1 701.1 308.3 705.3 308.5 704.6 308.6 699.7 308.8 703.4 309 705.5 309.1 701.8 309.3 707.2 309.4 702.4 309.6 704.6 309.8 701.9 309.9 695.8 310.1 702.1 310.3 706.2 310.4 708.2 310.6 702.3 310.7 703.5 310.9 706.9 311.1 704.3 311.2 702.5 311.4 706 311.5 702.8 311.7 700.7 311.9 704.5 312 697.8 312.2 704.8 312.4 705.5 312.5 698.4 312.7 703.1 312.8 704 313 704.6 313.2 700.1 313.3 703.5 313.5 702.9 313.6 707.1 313.8 705.7 314 702.5 314.1 705.7 314.3 702.6 314.5 697.5 314.6 700.5 314.8 697.4 314.9 703.9 315.1 698.8 315.3 702.1 315.4 698.2 315.6 704.1 315.7 700.1 315.9 697.3 316.1 699.8 316.2 699.4 316.4 701.2 316.6 707.9 316.7 702.9 316.9 702.5 317 697 317.2 699.6" fill="none" stroke="#f00" stroke-width="1.5" stroke-linejoin="round" />
<path d="M26.3 763L26.5 775.4 26.6 794.2 26.8 798.8 26.9 798.6 27.1 804.1 27.3 803.2 27.4 806.6 27.6 805.9 27.8 812 27.9 807.9 28.1 805.7 28.2 806.4 28.4 807 28.6 803.4 28.7 803.3 28.9 810.6 29 806.7 29.2 805.5 29.4 800.7 29.5 806.1 29.7 808.4 29.9 807.4 30 803.5 30.2 814.4 30.3 804.4 30.5 803.9 30.7 808 30.8 804.2 31 809.8 31.1 811 31.3 812.5 31.5 808.3 31.6 806.5 31.8 807.3 32 811.8 32.1 807.6 32.3 806.1 32.4 806.5 32.6 803.5 32.8 811 32.9 806.8 33.1 808.4 33.2 807.7 33.4 809.7 33.6 807.9 33.7 812.2 33.9 809.9 34.1 805.4 34.2 810 34.4 809.3 34.5 807.3 34.7 806.9 34.9 804.9 35 810.9 35.2 809.3 35.4 812.5 35.5 807.4 35.7 808.6 35.8 808.3 36 812.1 36.2 806.9 36.3 812.5 36.5 812.7 36.6 810.6 36.8 811.7 37 807.5 37.1 808.8 37.3 811.3 37.5 806.2 37.6 807.2 37.8 809.9 37.9 811.4 38.1 812.2 38.3 808.3 38.4 809.2 38.6 808.1 38.7 807.9 38.9 808.1 39.1 810.9 39.2 807.8 39.4 808.8 39.6 815.1 39.7 810.1 39.9 805.2 40 807.4 40.2 809.7 40.4 809.9 40.5 807.1 40.7 809.3 40.8 812.7 41 812 41.2 801.1 41.3 808.8 41.5 807.7 41.7 807.2 41.8 806.6 42 805.5 42.1 807.2 42.3 808.5 42.5 807.9 42.6 807.4 42.8 802.2 42.9 801.9 43.1 804.7 43.3 801.6 43.4 808.1 43.6 808.8 43.8 812.9 43.9 803.7 44.1 804.8 44.2 809.6 44.4 804.2 44.6 806.6 44.7 804.9 44.9 802.4 45 803.4 45.2 805.3 45.4 806.3 45.5 802 45.7 808.1 45.9 803.7 46 801.9 46.2 800.5 46.3 808.9 46.5 802.8 46.7 805.1 46.8 804.9 47 801.6 47.1 803.6 47.3 812 47.5 802.2 47.6 807.5 47.8 802.8 48 806.2 48.1 806.7 48.3 804.6 48.4 803.2 48.6 807.6 48.8 801.3 48.9 806.8 49.1 804 49.2 800.1 49.4 806.6 49.6 804.8 49.7 803.7 49.9 803.3 50.1 803 50.2 805.6 50.4 805.9 50.5 805.6 50.7 807.7 50.9 811.6 51 805.5 51.2 806.5 51.3 798.9 51.5 808 51.7 810.2 51.8 808.6 52 808.3 52.2 805.3 52.3 808.2 52.5 805.2 52.6 808.5 52.8 808.3 53 806.3 53.1 806.5 53.3 810.8 53.5 805.4 53.6 807.3 53.8 801 53.9 807.2 54.1 805.7 54.3 809.3 54.4 805 54.6 808.1 54.7 806 54.9 804 55.1 810.4 55.2 812.5 55.4 807.2 55.6 806.1 55.7 804.9 55.9 802.8 56 807.8 56.2 807.5 56.4 809.5 56.5 805.2 56.7 742.4 56.8 753.8 56.8 745.4 57 758.8 57.2 770.9 57.3 773.3 57.5 770.7 57.7 773.6 57.8 779.6 58 785.5 58.1 782.2 58.3 786.8 58.5 782.2 58.6 785.3 58.8 787.2 58.9 785.2 59.1 778.1 59.3 784.2 59.4 784.5 59.6 789.9 59.8 785 59.9 791.9 60.1 789.4 60.2 787.4 60.4 781.9 60.6 790.4 60.7 787 60.9 789.4 61 794.3 61.2 787 61.4 781.9 61.5 786.8 61.7 791.5 61.9 789.6 62 787.8 62.2 792.4 62.3 789 62.5 791.4 62.7 789.6 62.8 790.9 63 789.6 63.1 788.7 63.3 791.9 63.5 785.3 63.6 792.9 63.8 788.3 64 784.1 64.1 785.5 64.3 790.3 64.4 788.3 64.6 792.4 64.8 788.6 64.9 792.6 65.1 786.3 65.2 788.7 65.4 791.6 65.6 787.4 65.7 791.3 65.9 789 66.1 792.1 66.2 791.4 66.4 787.1 66.5 784.1 66.7 784.8 66.9 786.6 67 789.2 67.2 787.3 67.3 790.2 67.5 790.2 67.7 790.7 67.8 787.3 68 789.2 68.2 794.2 68.3 789.5 68.5 786.7 68.6 788.9 68.8 792.4 69 790.5 69.1 790.7 69.3 788.1 69.5 789.1 69.6 791.7 69.8 788.4 69.9 796.5 70.1 796.7 70.3 789.1 70.4 797 70.6 787 70.7 790.7 70.9 791.2 71.1 788 71.2 785.8 71.4 791.5 71.6 790.5 71.7 794.6 71.9 795.5 72 795.6 72.2 788 72.4 793.1 72.5 787.4 72.7 795.3 72.8 794.6 73 791.6 73.2 789.1 73.3 794.8 73.5 793.6 73.7 794.3 73.8 786.9 74 791.1 74.1 790.9 74.3 794.4 74.5 792.8 74.6 794.7 74.8 785.8 74.9 793 75.1 798.7 75.3 796.3 75.4 799.5 75.6 796.8 75.8 798.3 75.9 789.6 76.1 793.9 76.2 796.8 76.4 787.2 76.6 794.6 76.7 788.2 76.9 794.1 77 793.3 77.2 791.7 77.4 788.8 77.5 793.6 77.7 788.9 77.9 796.2 78 787.2 78.2 792.6 78.3 793.4 78.5 794.4 78.7 793.1 78.8 792.1 79 793.3 79.1 798.1 79.3 788.2 79.5 795.9 79.6 796.6 79.8 797 80 792 80.1 796.5 80.3 795 80.4 789.6 80.6 791.6 80.8 794.3 80.9 797.3 81.1 794.6 81.2 792.9 81.4 797.4 81.6 796.7 81.7 792.8 81.9 795.5 82.1 790.4 82.2 798.8 82.4 796.5 82.5 797.4 82.7 794.2 82.9 797.2 83 792.4 83.2 789.8 83.3 795.5 83.5 794.1 83.7 797.1 83.8 792.2 84 798.1 84.2 796.1 84.3 794.4 84.5 798.8 84.6 793.8 84.8 796.6 85 795.1 85.1 797.2 85.3 799.8 85.4 794.2 85.6 795.7 85.8 795.8 85.9 797.4 86.1 794.8 86.3 797.7 86.4 795.9 86.6 791.7 86.7 797.6 86.9 795.2 87.1 797.7 87.2 795.6 87.4 797.2 87.6 794.2 87.7 798.3 87.9 797.6 88 791.8 88.2 796 88.4 791.3 88.5 797 88.7 799.7 88.8 796.6 89 795.2 89.2 797 89.3 800.5 89.5 801.3 89.7 791 89.8 798.6 90 794.8 90.1 793.3 90.3 793.4 90.5 805.3 90.6 800.6 90.8 799.8 90.9 794.1 91.1 797.2 91.3 799.4 91.4 793.8 91.6 793.2 91.8 795.2 91.9 799.3 92.1 794.2 92.2 797.7 92.4 795.4 92.6 794.1 92.7 794.2 92.9 795.3 93 794.8 93.2 792.6 93.4 794.1 93.5 801.8 93.7 796.6 93.9 794.2 94 791.1 94.2 795.7 94.3 795.9 94.5 792.8 94.7 797.2 94.8 792.2 95 795.9 95.1 793.5 95.3 793 95.5 792.9 95.6 790.8 95.8 794.7 96 796.4 96.1 794.1 96.3 787.9 96.4 791 96.6 797.1 96.8 798 96.9 794.9 97.1 798.7 97.2 798.4 97.4 791.3 97.6 791.6 97.7 792 97.9 790 98.1 801 98.2 794.6 98.4 797.1 98.5 792.2 98.7 798.4 98.9 794.2 99 793.1 99.2 792.8 99.3 791.1 99.5 791.5 99.7 795.7 99.8 800.7 100 795 100.2 791.9 100.3 792.9 100.5 802.4 100.6 799.3 100.8 794.7 101 795 101.1 796.4 101.3 796.4 101.4 799.2 101.6 795.3 101.8 791.6 101.9 796.7 102.1 801.9 102.3 799 102.4 795.4 102.6 795.3 102.7 799.3 102.9 799.6 103.1 796.5 103.2 796.2 103.4 796.6 103.6 797.1 103.7 797.2 103.9 799.3 104 802.9 104.2 801 104.4 798.5 104.5 795.1 104.7 800.1 104.8 791.4 105 798 105.2 800 105.3 795.5 105.5 794.3 105.7 793.5 105.8 795.5 106 796.5 106.1 799.3 106.3 797.8 106.5 797.5 106.6 800.7 106.8 797.4 106.9 804.3 107.1 801 107.3 800.4 107.4 799 107.6 797.9 107.8 798.3 107.9 798.6 108.1 803.9 108.2 793.2 108.4 801.2 108.6 796.2 108.7 799.1 108.9 799.5 109 800.7 109.2 800.2 109.4 804.8 109.5 801.1 109.7 793.5 109.9 798 110 801.8 110.2 801.2 110.3 801.4 110.5 800.4 110.7 796 110.8 798.3 111 801.3 111.1 806.1 111.3 794.6 111.5 796.1 111.6 799.5 111.8 798.2 112 800.3 112.1 801 112.3 791.7 112.4 805.8 112.6 799.6 112.8 797.4 112.9 796.9 113.1 798.3 113.2 799.1 113.4 797.3 113.6 801.4 113.7 801.3 113.9 796.2 114.1 800.2 114.2 795.8 114.4 794.5 114.5 793.6 114.7 794.3 114.9 800.7 115 797.5 115.2 797.7 115.3 794.5 115.5 798.5 115.7 793.6 115.8 797.1 116 793.6 116.2 797.2 116.3 797.3 116.5 800.8 116.6 798.8 116.8 793 117 793.2 117.1 804.8 117.3 790.8 117.4 792.8 117.6 800.1 117.8 795.8 117.9 795.3 118.1 805.6 118.3 798.7 118.4 797.8 118.6 798.9 118.7 802.5 118.9 798.8 119.1 796.8 119.2 797.3 119.4 801.8 119.5 791.7 119.7 801.8 119.9 800.5 120 797.1 120.2 800.2 120.4 800.4 120.5 800.3 120.7 799.1 120.8 791.5 121 799.5 121.2 800.3 121.3 802 121.5 797.9 121.7 796.8 121.8 801 122 799.8 122.1 797.3 122.3 800.1 122.5 800.7 122.6 796.1 122.8 794.4 122.9 799.2 123.1 804.2 123.3 796.8 123.4 802.7 123.6 792.5 123.8 797.2 123.9 796.1 124.1 797.1 124.2 795 124.4 795.8 124.6 796.6 124.7 797.3 124.9 802.5 125 796 125.2 798.9 125.4 797.3 125.5 795.3 125.7 800.6 125.9 800.5 126 795.8 126.2 800.4 126.3 799.8 126.5 799.8 126.7 796.7 126.8 799.5 127 798.1 127.1 794.7 127.3 797.2 127.5 797.4 127.6 799.1 127.8 800.3 128 803.6 128.1 799.8 128.3 796 128.4 793.8 128.6 801.1 128.8 799.4 128.9 798 129.1 798.6 129.2 800.7 129.4 806.6 129.6 801 129.7 801.6 129.9 800.6 130.1 800.1 130.2 801.7 130.4 798.9 130.5 801.6 130.7 803.8 130.9 798.4 131 799.7 131.2 798.3 131.3 796.5 131.5 803.9 131.7 800.1 131.8 803.1 132 798.7 132.2 803.3 132.3 807.2 132.5 795.5 132.6 802.6 132.8 801 133 798.2 133.1 796.7 133.3 798.9 133.4 800.5 133.6 793.6 133.8 800.3 133.9 802.1 134.1 798.8 134.3 801.4 134.4 798.7 134.6 802.4 134.7 798.5 134.9 804.7 135.1 799.3 135.2 797.9 135.4 799.4 135.5 800.2 135.7 793.4 135.9 800 136 802.5 136.2 800.2 136.4 796.4 136.5 801.8 136.7 805.5 136.8 801.4 137 804.2 137.2 801.4 137.3 805.3 137.5 796.1 137.7 800.8 137.8 798.7 138 800.5 138.1 798.2 138.3 801.4 138.5 801.8 138.6 803.3 138.8 802.3 138.9 797.9 139.1 797.4 139.3 802 139.4 805 139.6 797.6 139.8 802.9 139.9 802.3 140.1 801 140.2 797.2 140.4 798.9 140.6 800.8 140.7 804.4 140.9 799.8 141 796.4 141.2 799.3 141.4 797.7 141.5 799.4 141.7 800.4 141.9 799.1 142 799.6 142.2 792.4 142.3 798.8 142.5 799.7 142.7 799.4 142.8 798.6 143 798.5 143.1 796.8 143.3 796.9 143.5 798.5 143.6 805.2 143.8 796.8 144 798.4 144.1 795 144.3 806.2 144.4 796.8 144.6 805.9 144.8 799 144.9 800.1 145.1 796.5 145.2 805.3 145.4 796.9 145.6 804 145.7 800.5 145.9 801 146.1 797.4 146.2 800.4 146.4 798.8 146.5 801.2 146.7 800.6 146.9 801.5 147 797.9 147.2 801 147.3 802.1 147.5 797.1 147.7 797.9 147.8 794.4 148 799.3 148.2 796.8 148.3 800.9 148.5 796.1 148.6 794.7 148.8 794.8 149 804.3 149.1 802.6 149.3 805 149.4 796 149.6 795.4 149.8 800.2 149.9 801.7 150.1 801 150.3 801.9 150.4 801 150.6 801.5 150.7 797 150.9 793.1 151.1 799.6 151.2 796.8 151.4 794.6 151.5 795.1 151.7 799.9 151.9 797.8 152 795.4 152.2 796.1 152.4 795.3 152.5 801.5 152.7 799.6 152.8 797.1 153 800.4 153.2 793.7 153.3 792.5 153.5 802.6 153.6 802 153.8 800.5 154 799.4 154.1 797.1 154.3 794.9 154.5 802.8 154.6 801 154.8 798.4 154.9 802.6 155.1 799.4 155.3 805.3 155.4 800.2 155.6 801.7 155.8 800.1 155.9 804.8 156.1 804 156.2 803.4 156.4 806 156.6 807.7 156.7 805.5 156.9 800.5 157 803 157.2 801.6 157.4 802.7 157.5 797.4 157.7 804 157.9 803.1 158 800.3 158.2 802.6 158.3 802.2 158.5 801.5 158.7 806 158.8 806.8 159 805.2 159.1 800.6 159.3 795.8 159.5 806.7 159.6 802.4 159.8 809.8 160 804.1 160.1 802.6 160.3 803.4 160.4 807.5 160.6 804.8 160.8 798.8 160.9 803.3 161.1 805.7 161.2 803.1 161.4 806 161.6 804.9 161.7 804.4 161.9 803.6 162.1 804.5 162.2 801.7 162.4 807.4 162.5 806.6 162.7 800.3 162.9 804.3 163 803.4 163.2 804.2 163.3 804.1 163.5 805.9 163.7 802.1 163.8 802.4 164 804.9 164.2 801.9 164.3 798.7 164.5 807.5 164.6 798.8 164.8 803.3 165 802.6 165.1 800.5 165.3 798.9 165.4 800.6 165.6 799.4 165.8 804.9 165.9 804.7 166.1 803.9 166.3 801.8 166.4 803.7 166.6 804 166.7 798.5 166.9 801.2 167.1 804.6 167.2 796.9 167.4 796.9 167.5 797.2 167.7 807.6 167.9 804.5 168 804.1 168.2 800.3 168.4 799.2 168.5 799.4 168.7 802.9 168.8 797.8 169 794.8 169.2 800.7 169.3 797.8 169.5 800.8 169.6 808.9 169.8 803.2 170 802.4 170.1 799.7 170.3 799 170.5 803.3 170.6 804.7 170.8 804.4 170.9 802.2 171.1 802.7 171.3 801.6 171.4 798.9 171.6 815.7 171.8 806.7 171.9 813.6 172.1 808.7 172.2 812.4 172.4 810.8 172.6 814.7 172.7 810 172.9 812.8 173 816.9 173.2 813.6 173.4 815.4 173.5 810.9 173.7 814.4 173.9 810.2 174 810.5 174.2 810.9 174.3 814.3 174.5 809.3 174.7 812.9 174.8 813.1 175 809.4 175.1 813.9 175.3 808.8 175.5 809.9 175.6 810.4 175.8 812.5 176 813.9 176.1 810.8 176.3 815.5 176.4 811.1 176.6 814.6 176.8 808.3 176.9 811.5 177.1 808.7 177.2 814.7 177.4 811.6 177.6 813.4 177.7 812 177.9 814.9 178.1 808.5 178.2 813.7 178.4 809.8 178.5 809.5 178.7 807 178.9 809.2 179 816 179.2 813.4 179.3 814.7 179.5 814.8 179.7 814.2 179.8 808.9 180 809 180.2 810.1 180.3 814.3 180.5 812.6 180.6 809.3 180.8 810.3 181 814.6 181.1 810.9 181.3 811.1 181.4 806.7 181.6 812.3 181.8 819.4 181.9 810.6 182.1 808.3 182.3 816.6 182.4 809.2 182.6 808.5 182.7 811.4 182.9 813.8 183.1 812.1 183.2 813.2 183.4 811.5 183.5 808.8 183.7 811.9 183.9 814.1 184 810.6 184.2 813.7 184.4 817.5 184.5 812.1 184.7 807.3 184.8 814.2 185 812.4 185.2 817.3 185.3 813.5 185.5 814.1 185.6 812.5 185.8 813.1 186 813.7 186.1 810.7 186.3 815.1 186.5 816.2 186.6 809.8 186.8 811.3 186.9 815.7 187.1 816.6 187.3 816.3 187.4 806.1 187.6 810.6 187.7 811.9 187.9 810.5 188.1 810.8 188.2 805.2 188.4 810.6 188.6 810.8 188.7 813 188.9 809.4 189 810.9 189.2 811.4 189.4 820 189.5 812.5 189.7 814.5 189.9 809.7 190 817.8 190.2 813.5 190.3 815 190.5 811.6 190.7 811.1 190.8 810.3 191 813.3 191.1 812.6 191.3 815.3 191.5 811 191.6 813.6 191.8 808.1 192 805.3 192.1 816.3 192.3 811.9 192.4 815.5 192.6 815.4 192.8 811.4 192.9 810.5 193.1 812.8 193.2 809.5 193.4 811.9 193.6 813.8 193.7 807.1 193.9 810.5 194.1 812.2 194.2 809.9 194.4 809.7 194.5 812.8 194.7 809.2 194.9 817.2 195 816.1 195.2 812 195.3 816.4 195.5 807.8 195.7 812.6 195.8 809.5 196 812.2 196.2 813.8 196.3 813 196.5 809.7 196.6 813.1 196.8 818.1 197 808 197.1 813.2 197.3 812.8 197.4 812.5 197.6 814.8 197.8 819.7 197.9 813.5 198.1 813.7 198.3 811.1 198.4 811.1 198.6 812.8 198.7 813.8 198.9 806.4 199.1 810 199.2 811.3 199.4 815.4 199.5 812.9 199.7 811 199.9 814.3 200 813.3 200.2 814 200.4 811.6 200.5 809.9 200.7 811.3 200.8 811.6 201 809.7 201.2 763.5 201.3 787.4 201.3 766.7 201.5 794.6 201.6 793.3 201.8 792.3 202 800.9 202.1 796.3 202.3 792.2 202.5 796.9 202.6 796.4 202.8 794.2 202.9 795 203.1 799.1 203.3 796.5 203.4 799.4 203.6 795.7 203.7 795.1 203.9 794.4 204.1 796.2 204.2 805.2 204.4 797.8 204.6 800.1 204.7 795.5 204.9 794.4 205 796.9 205.2 799.3 205.4 796.5 205.5 795.5 205.7 794.6 205.8 795 206 798.8 206.2 797.5 206.3 798 206.5 794.6 206.7 802.6 206.8 802.8 207 794.9 207.1 795 207.3 796.2 207.5 798.6 207.6 795.3 207.8 798.3 208 800 208.1 796.1 208.3 801.4 208.4 797 208.6 798.7 208.8 797.6 208.9 792.5 209.1 801.9 209.2 796.8 209.4 794.2 209.6 795.1 209.7 796.6 209.9 800.4 210.1 793.7 210.2 799 210.4 791.9 210.5 797.8 210.7 794.8 210.9 795.1 211 799.3 211.2 798.1 211.3 794.4 211.5 799.1 211.7 795.5 211.8 798.7 212 796.1 212.2 797.5 212.3 797.3 212.5 794.2 212.6 800.7 212.8 800.9 213 803.7 213.1 789.1 213.3 799.4 213.4 794.8 213.6 799.2 213.8 799.7 213.9 800.6 214.1 792.1 214.3 800.7 214.4 801.3 214.6 797.1 214.7 796.6 214.9 797.3 215.1 801.5 215.2 798.2 215.4 796 215.5 800.7 215.7 793.9 215.9 800.3 216 797.4 216.2 798.3 216.4 799.9 216.5 796 216.7 803.3 216.8 799.4 217 802.9 217.2 798.1 217.3 804.9 217.5 797.6 217.6 801.5 217.8 797 218 801 218.1 795.2 218.3 800.6 218.5 801 218.6 801.8 218.8 801.4 218.9 804.5 219.1 799.7 219.3 805.4 219.4 800.5 219.6 801.7 219.7 801.2 219.9 802.6 220.1 801 220.2 800.4 220.4 799.4 220.6 795.5 220.7 800.8 220.9 797.5 221 797 221.2 797.1 221.4 800 221.5 793.3 221.7 803.5 221.8 800.8 222 798 222.2 800.9 222.3 798.4 222.5 796.8 222.7 798.8 222.8 799.5 223 797.1 223.1 799.5 223.3 800.1 223.5 803.6 223.6 796.5 223.8 793.3 224 801.3 224.1 800.2 224.3 794.5 224.4 802 224.6 801.3 224.8 796.9 224.9 798.3 225.1 796.6 225.2 802.7 225.4 796.3 225.6 800.6 225.7 795.3 225.9 796.3 226.1 800.3 226.2 795.5 226.4 799.5 226.5 802 226.7 800.3 226.9 803.2 227 799.9 227.2 802.1 227.3 795.8 227.5 802.4 227.7 795.7 227.8 797.2 228 804.4 228.2 800 228.3 800.4 228.5 801.5 228.6 800.3 228.8 793.8 229 800.3 229.1 803.5 229.3 802.7 229.4 801.5 229.6 793.3 229.8 801.6 229.9 795.9 230.1 804.5 230.3 801.7 230.4 801.5 230.6 801.7 230.7 799.7 230.9 799.3 231.1 801.1 231.2 804.7 231.4 800.2 231.5 801 231.7 799 231.9 803.7 232 797.3 232.2 800.3 232.4 805 232.5 799 232.7 804.5 232.8 803.7 233 802.5 233.2 800.9 233.3 795 233.5 802.6 233.6 800.5 233.8 800.7 234 802.9 234.1 806.8 234.3 802.2 234.5 808.4 234.6 801.3 234.8 806.8 234.9 801.6 235.1 799.5 235.3 804.8 235.4 800.8 235.6 799.2 235.7 805.9 235.9 808.9 236.1 804.5 236.2 801.8 236.4 805.6 236.6 802.6 236.7 801.8 236.9 800.3 237 798.9 237.2 801.1 237.4 804.6 237.5 802.9 237.7 806.7 237.8 799.8 238 795.5 238.2 805.6 238.3 799.8 238.5 799.1 238.7 792.2 238.8 794.9 239 801.9 239.1 797.6 239.3 798.1 239.5 805.5 239.6 799.7 239.8 800.8 239.9 794.9 240.1 800.4 240.3 798.2 240.4 795.1 240.6 796.3 240.8 803 240.9 799.2 241.1 798 241.2 797.5 241.4 799.7 241.6 796.1 241.7 801.1 241.9 800.2 242.1 794.6 242.2 799.8 242.4 803.1 242.5 794.8 242.7 802.9 242.9 801.2 243 798.5 243.2 796.9 243.3 797.1 243.5 796.5 243.7 797.2 243.8 797.9 244 799.6 244.2 800.8 244.3 801.7 244.5 793.4 244.6 797.6 244.8 799.6 245 797 245.1 799 245.3 799 245.4 800.1 245.6 799.2 245.8 800.5 245.9 805 246.1 800.5 246.3 799.5 246.4 801.3 246.6 802.2 246.7 800.9 246.9 801.8 247.1 805.1 247.2 802 247.4 804.1 247.5 805.6 247.7 800.7 247.9 801.1 248 799.4 248.2 802.8 248.4 800.6 248.5 801.6 248.7 800.3 248.8 804.4 249 799.2 249.2 804 249.3 807.9 249.5 802.1 249.6 806.3 249.8 798.9 250 805.4 250.1 801.5 250.3 806.6 250.5 800.4 250.6 797.3 250.8 802.4 250.9 797.8 251.1 801.7 251.3 804.5 251.4 801.9 251.6 803.5 251.7 799.2 251.9 799.3 252.1 795.8 252.2 803.1 252.4 801 252.6 802.4 252.7 802.9 252.9 801.5 253 798.8 253.2 798.4 253.4 797.2 253.5 801.3 253.7 800.7 253.8 801.5 254 810.4 254.2 800.1 254.3 800.1 254.5 801.8 254.7 799.7 254.8 796.9 255 803.9 255.1 799 255.3 802.1 255.5 800.7 255.6 800.8 255.8 801 255.9 795.8 256.1 800.6 256.3 801.1 256.4 803.6 256.6 795.5 256.8 799 256.9 800.3 257.1 802.9 257.2 801.4 257.4 795.5 257.6 803 257.7 803.4 257.9 796.3 258.1 803.4 258.2 798.4 258.4 794.7 258.5 804.1 258.7 803.4 258.9 796.6 259 796.4 259.2 794.3 259.3 799.5 259.5 799.7 259.7 803.6 259.8 801 260 800.3 260.2 799.2 260.3 802.7 260.5 800.8 260.6 797.1 260.8 795.3 261 798.2 261.1 797.6 261.3 795.5 261.4 805.9 261.6 794.3 261.8 800.1 261.9 805.1 262.1 799.1 262.3 798 262.4 801.9 262.6 796.6 262.7 797.6 262.9 793.3 263.1 800.4 263.2 800.3 263.4 801.9 263.5 803.6 263.7 799.4 263.9 794.1 264 802.5 264.2 803.1 264.4 800.3 264.5 802.8 264.7 799.2 264.8 801.5 265 802.3 265.2 802.4 265.3 800.7 265.5 796.6 265.6 806.7 265.8 795.2 266 799.8 266.1 796.6 266.3 798.2 266.5 799.1 266.6 803.4 266.8 803.5 266.9 798.5 267.1 799.2 267.3 794.7 267.4 810.6 267.6 802.7 267.7 808.7 267.9 795 268.1 803 268.2 805.3 268.4 798.9 268.6 798.7 268.7 804.7 268.9 803 269 801.6 269.2 796.4 269.4 803.3 269.5 801.1 269.7 798 269.8 800.6 270 802.1 270.2 800.7 270.3 797.1 270.5 801 270.7 798 270.8 804 271 801.9 271.1 803 271.3 798 271.5 804.4 271.6 806.1 271.8 799.7 271.9 797.6 272.1 794.6 272.3 805.9 272.4 804.8 272.6 797 272.8 798.9 272.9 802.2 273.1 799.9 273.2 797.3 273.4 798.8 273.6 806 273.7 800.6 273.9 799.9 274 797 274.2 796.6 274.4 799.9 274.5 798.5 274.7 801.2 274.9 802.7 275 799.3 275.2 804.2 275.3 806.1 275.5 803.9 275.7 798 275.8 799.5 276 800 276.2 795 276.3 798.5 276.5 800.6 276.6 795.9 276.8 799.6 277 804.5 277.1 801.5 277.3 801.3 277.4 798.8 277.6 800 277.8 798.1 277.9 799.6 278.1 800.5 278.3 800.7 278.4 800.2 278.6 800.9 278.7 804.1 278.9 802.2 279.1 798.1 279.2 803.1 279.4 795.7 279.5 798.6 279.7 800.3 279.9 804.5 280 800.3 280.2 800.7 280.4 798.1 280.5 796.1 280.7 796.5 280.8 797.4 281 796.7 281.2 794.1 281.3 797.2 281.5 797.4 281.6 800.9 281.8 798.9 282 797.4 282.1 804.1 282.3 793.2 282.5 799.4 282.6 796.9 282.8 805.5 282.9 798.5 283.1 802.2 283.3 799.1 283.4 802.2 283.6 802 283.7 803.9 283.9 795 284.1 801 284.2 802.1 284.4 803.4 284.6 799.3 284.7 794.1 284.9 799.1 285 801.6 285.2 799.3 285.4 801.1 285.5 799.8 285.7 801.4 285.8 794.9 286 792.6 286.2 800.4 286.3 802.2 286.5 798.7 286.7 799.1 286.8 796.6 287 801.3 287.1 800.3 287.3 799.8 287.5 800.4 287.6 798.8 287.8 798.6 287.9 798.8 288.1 805.6 288.3 798.7 288.4 799.8 288.6 806.2 288.8 800.4 288.9 802.7 289.1 801.1 289.2 804.3 289.4 798.5 289.6 798.9 289.7 798 289.9 799.5 290 799.5 290.2 799.4 290.4 797.5 290.5 801.1 290.7 798.6 290.9 804.8 291 799 291.2 801.8 291.3 796.5 291.5 799.8 291.7 804 291.8 800.1 292 802.7 292.2 798.1 292.3 801.4 292.5 801.9 292.6 801.6 292.8 805 293 801.4 293.1 802.4 293.3 801.5 293.4 798.5 293.6 805.4 293.8 802.2 293.9 797.5 294.1 802.5 294.3 803.2 294.4 801.5 294.6 798.6 294.7 802 294.9 798.8 295.1 805.3 295.2 798.3 295.4 803.3 295.5 800.5 295.7 799.3 295.9 804.4 296 796.5 296.2 801.7 296.4 803.6 296.5 797.4 296.7 800.1 296.8 795.6 297 802.1 297.2 806.1 297.3 801 297.5 807.5 297.6 799.6 297.8 801.8 298 809 298.1 802.3 298.3 804.6 298.5 807.3 298.6 804.4 298.8 804.1 298.9 801.2 299.1 804.3 299.3 797.6 299.4 794.6 299.6 799.4 299.7 803.6 299.9 801 300.1 800.9 300.2 803.4 300.4 801.6 300.6 796.8 300.7 803 300.9 797.8 301 801.2 301.2 803.5 301.4 801.4 301.5 797.9 301.7 800.8 301.8 802.3 302 801.2 302.2 803.6 302.3 800 302.5 797.9 302.7 797.6 302.8 795.3 303 798.8 303.1 807.6 303.3 799.8 303.5 805.1 303.6 802.3 303.8 803.3 303.9 799.7 304.1 801.4 304.3 802.7 304.4 801.1 304.6 806.1 304.8 804.4 304.9 799.7 305.1 796.1 305.2 803.3 305.4 797.8 305.6 802.3 305.7 798.1 305.9 805.3 306 800.9 306.2 798.2 306.4 805.2 306.5 801.7 306.7 804.5 306.9 802.6 307 800.6 307.2 802.6 307.3 803.6 307.5 801.1 307.7 803.8 307.8 802.7 308 803.8 308.1 800.9 308.3 804 308.5 804.4 308.6 804.5 308.8 805.2 309 800.5 309.1 798.9 309.3 802.2 309.4 805.4 309.6 806.6 309.8 803.3 309.9 803.3 310.1 802.1 310.3 802.4 310.4 800.7 310.6 804.8 310.7 796.7 310.9 805.6 311.1 803.7 311.2 803.3 311.4 805.3 311.5 809.4 311.7 800 311.9 793 312 800 312.2 808.9 312.4 803.6 312.5 804.5 312.7 800.3 312.8 803.6 313 804.7 313.2 806.6 313.3 803.1 313.5 805.5 313.6 803.7 313.8 803.5 314 804.6 314.1 805 314.3 805.9 314.5 805.2 314.6 809.2 314.8 811.7 314.9 805.9 315.1 803.3 315.3 806.7 315.4 807.8 315.6 805.4 315.7 808.7 315.9 808.6 316.1 806.9 316.2 805.4 316.4 805.8 316.6 801.9 316.7 806.6 316.9 810.1 317 808.7 317.2 807.6" fill="none" stroke="#008000" stroke-width="1.5" stroke-linejoin="round" />
</g>
<rect x="25.6" y="7.6" width="97.2" height="82.7" fill="#fff" stroke="#c8c8c8" stroke-width="1"/>
<line x1="27.5" y1="17.7" x2="58.5" y2="17.7" stroke="#000" stroke-width="2.0"/>
<text transform="translate(62,22.9) scale(1,1.07)" font-family='"Liberation Serif", serif' font-size="13.5" font-weight="bold" text-anchor="start" stroke="#000" stroke-width="0.15" >BiVO<tspan dy="3.8" font-size="9">4</tspan></text>
<line x1="27.5" y1="37.7" x2="58.5" y2="37.7" stroke="#f00" stroke-width="2.0"/>
<text transform="translate(62,42.9) scale(1,1.07)" font-family='"Liberation Serif", serif' font-size="13.5" font-weight="bold" text-anchor="start" stroke="#000" stroke-width="0.15" >S<tspan dy="3.8" font-size="9">8</tspan><tspan dy="-3.8">-BiVO</tspan><tspan dy="3.8" font-size="9">4</tspan></text>
<line x1="27.5" y1="57.7" x2="58.5" y2="57.7" stroke="#00f" stroke-width="2.0"/>
<text transform="translate(62,62.9) scale(1,1.07)" font-family='"Liberation Serif", serif' font-size="13.5" font-weight="bold" text-anchor="start" stroke="#000" stroke-width="0.15" >S<tspan dy="3.8" font-size="9">10</tspan><tspan dy="-3.8">-BiVO</tspan><tspan dy="3.8" font-size="9">4</tspan></text>
<line x1="27.5" y1="77.7" x2="58.5" y2="77.7" stroke="#008000" stroke-width="2.0"/>
<text transform="translate(62,82.9) scale(1,1.07)" font-family='"Liberation Serif", serif' font-size="13.5" font-weight="bold" text-anchor="start" stroke="#000" stroke-width="0.15" >S<tspan dy="3.8" font-size="9">11</tspan><tspan dy="-3.8">-BiVO</tspan><tspan dy="3.8" font-size="9">4</tspan></text>
<rect x="25.9" y="299" width="206.1" height="61.7" fill="#fff" stroke="#c8c8c8" stroke-width="1"/>
<line x1="28" y1="309" x2="58.3" y2="309" stroke="#f01818" stroke-width="1.6"/>
<text transform="translate(61.5,314.2) scale(1,1.07)" font-family='"Liberation Serif", serif' font-size="13.5" font-weight="bold" text-anchor="start" stroke="#000" stroke-width="0.15" >S<tspan dy="3.8" font-size="9">8</tspan><tspan dy="-3.8">-BiVO</tspan><tspan dy="3.8" font-size="9">4</tspan></text>
<text transform="translate(159.2,314.4) scale(1,1.07)" font-family='"Liberation Serif", serif' font-size="13.5" font-weight="bold" text-anchor="start" stroke="#000" stroke-width="0.15" >first cycle</text>
<line x1="28" y1="329.2" x2="58.3" y2="329.2" stroke="#c0662a" stroke-width="1.6"/>
<text transform="translate(61.5,334.4) scale(1,1.07)" font-family='"Liberation Serif", serif' font-size="13.5" font-weight="bold" text-anchor="start" stroke="#000" stroke-width="0.15" >S<tspan dy="3.8" font-size="9">8</tspan><tspan dy="-3.8">-BiVO</tspan><tspan dy="3.8" font-size="9">4</tspan></text>
<text transform="translate(159.2,334.6) scale(1,1.07)" font-family='"Liberation Serif", serif' font-size="13.5" font-weight="bold" text-anchor="start" stroke="#000" stroke-width="0.15" >second cycle</text>
<line x1="28" y1="349.4" x2="58.3" y2="349.4" stroke="#b8b038" stroke-width="1.6"/>
<text transform="translate(61.5,354.6) scale(1,1.07)" font-family='"Liberation Serif", serif' font-size="13.5" font-weight="bold" text-anchor="start" stroke="#000" stroke-width="0.15" >S<tspan dy="3.8" font-size="9">8</tspan><tspan dy="-3.8">-BiVO</tspan><tspan dy="3.8" font-size="9">4</tspan></text>
<text transform="translate(159.2,354.8) scale(1,1.07)" font-family='"Liberation Serif", serif' font-size="13.5" font-weight="bold" text-anchor="start" stroke="#000" stroke-width="0.15" >third cycle</text>
<rect x="87" y="598.6" width="94.4" height="61.2" fill="#fff" stroke="#c8c8c8" stroke-width="1"/>
<line x1="88.4" y1="608.4" x2="119.4" y2="608.4" stroke="#000" stroke-width="2.0"/>
<text transform="translate(122.5,613.6) scale(1,1.07)" font-family='"Liberation Serif", serif' font-size="13.5" font-weight="bold" text-anchor="start" stroke="#000" stroke-width="0.15" >BiVO<tspan dy="3.8" font-size="9">4</tspan></text>
<line x1="88.4" y1="628" x2="119.4" y2="628" stroke="#f00" stroke-width="2.0"/>
<text transform="translate(122.5,633.2) scale(1,1.07)" font-family='"Liberation Serif", serif' font-size="13.5" font-weight="bold" text-anchor="start" stroke="#000" stroke-width="0.15" >S<tspan dy="3.8" font-size="9">8</tspan><tspan dy="-3.8">-BiVO</tspan><tspan dy="3.8" font-size="9">4</tspan></text>
<line x1="88.4" y1="647.6" x2="119.4" y2="647.6" stroke="#008000" stroke-width="2.0"/>
<text transform="translate(122.5,652.8) scale(1,1.07)" font-family='"Liberation Serif", serif' font-size="13.5" font-weight="bold" text-anchor="start" stroke="#000" stroke-width="0.15" >S<tspan dy="3.8" font-size="9">11</tspan><tspan dy="-3.8">-BiVO</tspan><tspan dy="3.8" font-size="9">4</tspan></text>
<rect x="25.6" y="7.6" width="297.5" height="239.5" fill="none" stroke="#000" stroke-width="1.7"/>
<line x1="25.6" y1="247.1" x2="25.6" y2="251.6" stroke="#000" stroke-width="1.5"/>
<line x1="99.98" y1="247.1" x2="99.98" y2="251.6" stroke="#000" stroke-width="1.5"/>
<line x1="174.35" y1="247.1" x2="174.35" y2="251.6" stroke="#000" stroke-width="1.5"/>
<line x1="248.72" y1="247.1" x2="248.72" y2="251.6" stroke="#000" stroke-width="1.5"/>
<line x1="323.1" y1="247.1" x2="323.1" y2="251.6" stroke="#000" stroke-width="1.5"/>
<line x1="62.79" y1="247.1" x2="62.79" y2="249.6" stroke="#000" stroke-width="1.5"/>
<line x1="137.16" y1="247.1" x2="137.16" y2="249.6" stroke="#000" stroke-width="1.5"/>
<line x1="211.54" y1="247.1" x2="211.54" y2="249.6" stroke="#000" stroke-width="1.5"/>
<line x1="285.91" y1="247.1" x2="285.91" y2="249.6" stroke="#000" stroke-width="1.5"/>
<line x1="323.1" y1="247.1" x2="327.6" y2="247.1" stroke="#000" stroke-width="1.5"/>
<line x1="323.1" y1="199.2" x2="327.6" y2="199.2" stroke="#000" stroke-width="1.5"/>
<line x1="323.1" y1="151.3" x2="327.6" y2="151.3" stroke="#000" stroke-width="1.5"/>
<line x1="323.1" y1="103.4" x2="327.6" y2="103.4" stroke="#000" stroke-width="1.5"/>
<line x1="323.1" y1="55.5" x2="327.6" y2="55.5" stroke="#000" stroke-width="1.5"/>
<line x1="323.1" y1="7.6" x2="327.6" y2="7.6" stroke="#000" stroke-width="1.5"/>
<line x1="323.1" y1="223.15" x2="325.6" y2="223.15" stroke="#000" stroke-width="1.5"/>
<line x1="323.1" y1="175.25" x2="325.6" y2="175.25" stroke="#000" stroke-width="1.5"/>
<line x1="323.1" y1="127.35" x2="325.6" y2="127.35" stroke="#000" stroke-width="1.5"/>
<line x1="323.1" y1="79.45" x2="325.6" y2="79.45" stroke="#000" stroke-width="1.5"/>
<line x1="323.1" y1="31.55" x2="325.6" y2="31.55" stroke="#000" stroke-width="1.5"/>
<rect x="25.9" y="299" width="299.1" height="240.3" fill="none" stroke="#000" stroke-width="1.7"/>
<line x1="25.9" y1="539.3" x2="25.9" y2="543.8" stroke="#000" stroke-width="1.5"/>
<line x1="100.68" y1="539.3" x2="100.68" y2="543.8" stroke="#000" stroke-width="1.5"/>
<line x1="175.45" y1="539.3" x2="175.45" y2="543.8" stroke="#000" stroke-width="1.5"/>
<line x1="250.22" y1="539.3" x2="250.22" y2="543.8" stroke="#000" stroke-width="1.5"/>
<line x1="325" y1="539.3" x2="325" y2="543.8" stroke="#000" stroke-width="1.5"/>
<line x1="63.29" y1="539.3" x2="63.29" y2="541.8" stroke="#000" stroke-width="1.5"/>
<line x1="138.06" y1="539.3" x2="138.06" y2="541.8" stroke="#000" stroke-width="1.5"/>
<line x1="212.84" y1="539.3" x2="212.84" y2="541.8" stroke="#000" stroke-width="1.5"/>
<line x1="287.61" y1="539.3" x2="287.61" y2="541.8" stroke="#000" stroke-width="1.5"/>
<line x1="325" y1="539.3" x2="329.5" y2="539.3" stroke="#000" stroke-width="1.5"/>
<line x1="325" y1="491.24" x2="329.5" y2="491.24" stroke="#000" stroke-width="1.5"/>
<line x1="325" y1="443.18" x2="329.5" y2="443.18" stroke="#000" stroke-width="1.5"/>
<line x1="325" y1="395.12" x2="329.5" y2="395.12" stroke="#000" stroke-width="1.5"/>
<line x1="325" y1="347.06" x2="329.5" y2="347.06" stroke="#000" stroke-width="1.5"/>
<line x1="325" y1="299" x2="329.5" y2="299" stroke="#000" stroke-width="1.5"/>
<line x1="325" y1="515.27" x2="327.5" y2="515.27" stroke="#000" stroke-width="1.5"/>
<line x1="325" y1="467.21" x2="327.5" y2="467.21" stroke="#000" stroke-width="1.5"/>
<line x1="325" y1="419.15" x2="327.5" y2="419.15" stroke="#000" stroke-width="1.5"/>
<line x1="325" y1="371.09" x2="327.5" y2="371.09" stroke="#000" stroke-width="1.5"/>
<line x1="325" y1="323.03" x2="327.5" y2="323.03" stroke="#000" stroke-width="1.5"/>
<rect x="26.3" y="598.6" width="290.9" height="234.4" fill="none" stroke="#000" stroke-width="1.7"/>
<line x1="26.3" y1="833" x2="26.3" y2="837.5" stroke="#000" stroke-width="1.5"/>
<line x1="74.78" y1="833" x2="74.78" y2="837.5" stroke="#000" stroke-width="1.5"/>
<line x1="123.27" y1="833" x2="123.27" y2="837.5" stroke="#000" stroke-width="1.5"/>
<line x1="171.75" y1="833" x2="171.75" y2="837.5" stroke="#000" stroke-width="1.5"/>
<line x1="220.23" y1="833" x2="220.23" y2="837.5" stroke="#000" stroke-width="1.5"/>
<line x1="268.72" y1="833" x2="268.72" y2="837.5" stroke="#000" stroke-width="1.5"/>
<line x1="317.2" y1="833" x2="317.2" y2="837.5" stroke="#000" stroke-width="1.5"/>
<line x1="50.54" y1="833" x2="50.54" y2="835.5" stroke="#000" stroke-width="1.5"/>
<line x1="99.02" y1="833" x2="99.02" y2="835.5" stroke="#000" stroke-width="1.5"/>
<line x1="147.51" y1="833" x2="147.51" y2="835.5" stroke="#000" stroke-width="1.5"/>
<line x1="195.99" y1="833" x2="195.99" y2="835.5" stroke="#000" stroke-width="1.5"/>
<line x1="244.47" y1="833" x2="244.47" y2="835.5" stroke="#000" stroke-width="1.5"/>
<line x1="292.96" y1="833" x2="292.96" y2="835.5" stroke="#000" stroke-width="1.5"/>
<line x1="317.2" y1="811.4" x2="321.7" y2="811.4" stroke="#000" stroke-width="1.5"/>
<line x1="317.2" y1="768.8" x2="321.7" y2="768.8" stroke="#000" stroke-width="1.5"/>
<line x1="317.2" y1="726.2" x2="321.7" y2="726.2" stroke="#000" stroke-width="1.5"/>
<line x1="317.2" y1="683.6" x2="321.7" y2="683.6" stroke="#000" stroke-width="1.5"/>
<line x1="317.2" y1="641" x2="321.7" y2="641" stroke="#000" stroke-width="1.5"/>
<line x1="317.2" y1="598.4" x2="321.7" y2="598.4" stroke="#000" stroke-width="1.5"/>
<line x1="317.2" y1="790.1" x2="319.7" y2="790.1" stroke="#000" stroke-width="1.5"/>
<line x1="317.2" y1="747.5" x2="319.7" y2="747.5" stroke="#000" stroke-width="1.5"/>
<line x1="317.2" y1="704.9" x2="319.7" y2="704.9" stroke="#000" stroke-width="1.5"/>
<line x1="317.2" y1="662.3" x2="319.7" y2="662.3" stroke="#000" stroke-width="1.5"/>
<line x1="317.2" y1="619.7" x2="319.7" y2="619.7" stroke="#000" stroke-width="1.5"/>
<text transform="translate(25.6,265.6) scale(1,1.07)" font-family='"Liberation Serif", serif' font-size="13" font-weight="bold" text-anchor="middle" stroke="#000" stroke-width="0.15" >0.6</text>
<text transform="translate(25.9,558.5) scale(1,1.07)" font-family='"Liberation Serif", serif' font-size="13" font-weight="bold" text-anchor="middle" stroke="#000" stroke-width="0.15" >0.6</text>
<text transform="translate(99.98,265.6) scale(1,1.07)" font-family='"Liberation Serif", serif' font-size="13" font-weight="bold" text-anchor="middle" stroke="#000" stroke-width="0.15" >0.8</text>
<text transform="translate(100.68,558.5) scale(1,1.07)" font-family='"Liberation Serif", serif' font-size="13" font-weight="bold" text-anchor="middle" stroke="#000" stroke-width="0.15" >0.8</text>
<text transform="translate(174.35,265.6) scale(1,1.07)" font-family='"Liberation Serif", serif' font-size="13" font-weight="bold" text-anchor="middle" stroke="#000" stroke-width="0.15" >1.0</text>
<text transform="translate(175.45,558.5) scale(1,1.07)" font-family='"Liberation Serif", serif' font-size="13" font-weight="bold" text-anchor="middle" stroke="#000" stroke-width="0.15" >1.0</text>
<text transform="translate(248.72,265.6) scale(1,1.07)" font-family='"Liberation Serif", serif' font-size="13" font-weight="bold" text-anchor="middle" stroke="#000" stroke-width="0.15" >1.2</text>
<text transform="translate(250.22,558.5) scale(1,1.07)" font-family='"Liberation Serif", serif' font-size="13" font-weight="bold" text-anchor="middle" stroke="#000" stroke-width="0.15" >1.2</text>
<text transform="translate(323.1,265.6) scale(1,1.07)" font-family='"Liberation Serif", serif' font-size="13" font-weight="bold" text-anchor="middle" stroke="#000" stroke-width="0.15" >1.4</text>
<text transform="translate(325,558.5) scale(1,1.07)" font-family='"Liberation Serif", serif' font-size="13" font-weight="bold" text-anchor="middle" stroke="#000" stroke-width="0.15" >1.4</text>
<text transform="translate(330.6,251.3) scale(1,1.07)" font-family='"Liberation Serif", serif' font-size="13" font-weight="bold" text-anchor="start" stroke="#000" stroke-width="0.15" >0.0</text>
<text transform="translate(332.1,543.5) scale(1,1.07)" font-family='"Liberation Serif", serif' font-size="13" font-weight="bold" text-anchor="start" stroke="#000" stroke-width="0.15" >0.0</text>
<text transform="translate(330.6,203.4) scale(1,1.07)" font-family='"Liberation Serif", serif' font-size="13" font-weight="bold" text-anchor="start" stroke="#000" stroke-width="0.15" >0.1</text>
<text transform="translate(332.1,495.44) scale(1,1.07)" font-family='"Liberation Serif", serif' font-size="13" font-weight="bold" text-anchor="start" stroke="#000" stroke-width="0.15" >0.1</text>
<text transform="translate(330.6,155.5) scale(1,1.07)" font-family='"Liberation Serif", serif' font-size="13" font-weight="bold" text-anchor="start" stroke="#000" stroke-width="0.15" >0.2</text>
<text transform="translate(332.1,447.38) scale(1,1.07)" font-family='"Liberation Serif", serif' font-size="13" font-weight="bold" text-anchor="start" stroke="#000" stroke-width="0.15" >0.2</text>
<text transform="translate(330.6,107.6) scale(1,1.07)" font-family='"Liberation Serif", serif' font-size="13" font-weight="bold" text-anchor="start" stroke="#000" stroke-width="0.15" >0.3</text>
<text transform="translate(332.1,399.32) scale(1,1.07)" font-family='"Liberation Serif", serif' font-size="13" font-weight="bold" text-anchor="start" stroke="#000" stroke-width="0.15" >0.3</text>
<text transform="translate(330.6,59.7) scale(1,1.07)" font-family='"Liberation Serif", serif' font-size="13" font-weight="bold" text-anchor="start" stroke="#000" stroke-width="0.15" >0.4</text>
<text transform="translate(332.1,351.26) scale(1,1.07)" font-family='"Liberation Serif", serif' font-size="13" font-weight="bold" text-anchor="start" stroke="#000" stroke-width="0.15" >0.4</text>
<text transform="translate(330.6,11.8) scale(1,1.07)" font-family='"Liberation Serif", serif' font-size="13" font-weight="bold" text-anchor="start" stroke="#000" stroke-width="0.15" >0.5</text>
<text transform="translate(332.1,303.2) scale(1,1.07)" font-family='"Liberation Serif", serif' font-size="13" font-weight="bold" text-anchor="start" stroke="#000" stroke-width="0.15" >0.5</text>
<text transform="translate(26.3,851.6) scale(1,1.07)" font-family='"Liberation Serif", serif' font-size="13" font-weight="bold" text-anchor="middle" stroke="#000" stroke-width="0.15" >0</text>
<text transform="translate(74.78,851.6) scale(1,1.07)" font-family='"Liberation Serif", serif' font-size="13" font-weight="bold" text-anchor="middle" stroke="#000" stroke-width="0.15" >300</text>
<text transform="translate(123.27,851.6) scale(1,1.07)" font-family='"Liberation Serif", serif' font-size="13" font-weight="bold" text-anchor="middle" stroke="#000" stroke-width="0.15" >600</text>
<text transform="translate(171.75,851.6) scale(1,1.07)" font-family='"Liberation Serif", serif' font-size="13" font-weight="bold" text-anchor="middle" stroke="#000" stroke-width="0.15" >900</text>
<text transform="translate(220.23,851.6) scale(1,1.07)" font-family='"Liberation Serif", serif' font-size="13" font-weight="bold" text-anchor="middle" stroke="#000" stroke-width="0.15" >1200</text>
<text transform="translate(268.72,851.6) scale(1,1.07)" font-family='"Liberation Serif", serif' font-size="13" font-weight="bold" text-anchor="middle" stroke="#000" stroke-width="0.15" >1500</text>
<text transform="translate(317.2,851.6) scale(1,1.07)" font-family='"Liberation Serif", serif' font-size="13" font-weight="bold" text-anchor="middle" stroke="#000" stroke-width="0.15" >1800</text>
<text transform="translate(324.6,815.6) scale(1,1.07)" font-family='"Liberation Serif", serif' font-size="13" font-weight="bold" text-anchor="start" stroke="#000" stroke-width="0.15" >0.00</text>
<text transform="translate(324.6,773) scale(1,1.07)" font-family='"Liberation Serif", serif' font-size="13" font-weight="bold" text-anchor="start" stroke="#000" stroke-width="0.15" >0.02</text>
<text transform="translate(324.6,730.4) scale(1,1.07)" font-family='"Liberation Serif", serif' font-size="13" font-weight="bold" text-anchor="start" stroke="#000" stroke-width="0.15" >0.04</text>
<text transform="translate(324.6,687.8) scale(1,1.07)" font-family='"Liberation Serif", serif' font-size="13" font-weight="bold" text-anchor="start" stroke="#000" stroke-width="0.15" >0.06</text>
<text transform="translate(324.6,645.2) scale(1,1.07)" font-family='"Liberation Serif", serif' font-size="13" font-weight="bold" text-anchor="start" stroke="#000" stroke-width="0.15" >0.08</text>
<text transform="translate(324.6,602.6) scale(1,1.07)" font-family='"Liberation Serif", serif' font-size="13" font-weight="bold" text-anchor="start" stroke="#000" stroke-width="0.15" >0.10</text>
<text transform="translate(108.4,284.8) scale(1,1.07)" font-family='"Liberation Serif", serif' font-size="13.7" font-weight="bold" text-anchor="start" stroke="#000" stroke-width="0.15" >Potential V vs RHE</text>
<text transform="translate(105.2,577) scale(1,1.07)" font-family='"Liberation Serif", serif' font-size="13.7" font-weight="bold" text-anchor="start" stroke="#000" stroke-width="0.15" >Potential V vs RHE</text>
<text transform="translate(142.5,869.3) scale(1,1.07)" font-family='"Liberation Serif", serif' font-size="13.5" font-weight="bold" text-anchor="start" stroke="#000" stroke-width="0.15" >Time, s</text>
<text transform="translate(14.2,206) rotate(-90)" font-family='"Liberation Serif", serif' font-size="13.6" font-weight="bold" stroke="#000" stroke-width="0.15">Photocurrent density, mA/cm<tspan dy="-5.5" font-size="8.70">2</tspan></text>
<text transform="translate(14.1,498) rotate(-90)" font-family='"Liberation Serif", serif' font-size="13.65" font-weight="bold" stroke="#000" stroke-width="0.15">Photocurrent density, mA/cm<tspan dy="-5.5" font-size="8.74">2</tspan></text>
<text transform="translate(15.2,792.6) rotate(-90)" font-family='"Liberation Serif", serif' font-size="13.3" font-weight="bold" stroke="#000" stroke-width="0.15">Photocurrent density, mA/cm<tspan dy="-5.5" font-size="8.51">2</tspan></text>
<text transform="translate(283.8,22) scale(1,1.0)" font-family='"Liberation Sans", sans-serif' font-size="12" font-weight="normal" text-anchor="start" >(a)</text>
<text transform="translate(284.9,314) scale(1,1.0)" font-family='"Liberation Sans", sans-serif' font-size="12" font-weight="normal" text-anchor="start" >(b)</text>
<text transform="translate(293.6,615.5) scale(1,1.0)" font-family='"Liberation Sans", sans-serif' font-size="12" font-weight="normal" text-anchor="start" >(c)</text>
<text transform="translate(63.6,670.7) scale(1,1.0)" font-family='"Liberation Serif", serif' font-size="12.7" font-weight="bold" text-anchor="start" stroke="#000" stroke-width="0.15" >Light</text>
<text transform="translate(63.6,685.2) scale(1,1.0)" font-family='"Liberation Serif", serif' font-size="12.7" font-weight="bold" text-anchor="start" stroke="#000" stroke-width="0.15" >on</text>
<text transform="translate(162.8,672.1) scale(1,1.0)" font-family='"Liberation Serif", serif' font-size="12.7" font-weight="bold" text-anchor="start" stroke="#000" stroke-width="0.15" >Light</text>
<text transform="translate(162.8,686.4) scale(1,1.0)" font-family='"Liberation Serif", serif' font-size="12.7" font-weight="bold" text-anchor="start" stroke="#000" stroke-width="0.15" >off</text>
<text transform="translate(204.3,671.6) scale(1,1.0)" font-family='"Liberation Serif", serif' font-size="12.7" font-weight="bold" text-anchor="start" stroke="#000" stroke-width="0.15" >Light</text>
<text transform="translate(204.3,685.9) scale(1,1.0)" font-family='"Liberation Serif", serif' font-size="12.7" font-weight="bold" text-anchor="start" stroke="#000" stroke-width="0.15" >on</text>
</svg>
</body></html>
